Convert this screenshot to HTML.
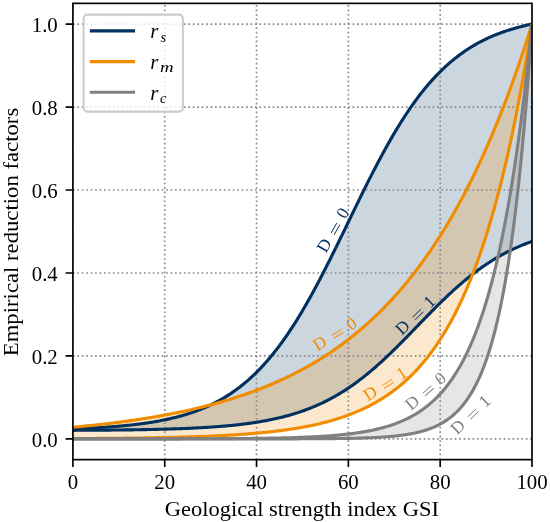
<!DOCTYPE html>
<html><head><meta charset="utf-8"><style>html,body{margin:0;padding:0;background:#fff;}svg{display:block;}</style></head>
<body><svg width="550" height="522" viewBox="0 0 550 522">
<rect width="550" height="522" fill="#fff"/>
<defs><clipPath id="ax"><rect x="72.9" y="3.360000000000003" width="459.1" height="456.28"/></clipPath></defs>
<g clip-path="url(#ax)">
<path d="M72.90,428.78 L74.05,428.74 L75.20,428.70 L76.34,428.66 L77.49,428.61 L78.64,428.57 L79.79,428.52 L80.93,428.48 L82.08,428.43 L83.23,428.38 L84.38,428.33 L85.53,428.28 L86.67,428.23 L87.82,428.17 L88.97,428.12 L90.12,428.06 L91.26,428.01 L92.41,427.95 L93.56,427.89 L94.71,427.83 L95.86,427.76 L97.00,427.70 L98.15,427.64 L99.30,427.57 L100.45,427.50 L101.59,427.43 L102.74,427.36 L103.89,427.29 L105.04,427.21 L106.18,427.14 L107.33,427.06 L108.48,426.98 L109.63,426.90 L110.78,426.81 L111.92,426.73 L113.07,426.64 L114.22,426.55 L115.37,426.46 L116.51,426.37 L117.66,426.27 L118.81,426.17 L119.96,426.08 L121.11,425.97 L122.25,425.87 L123.40,425.76 L124.55,425.65 L125.70,425.54 L126.84,425.43 L127.99,425.31 L129.14,425.19 L130.29,425.07 L131.44,424.95 L132.58,424.82 L133.73,424.69 L134.88,424.56 L136.03,424.42 L137.17,424.28 L138.32,424.14 L139.47,423.99 L140.62,423.85 L141.76,423.69 L142.91,423.54 L144.06,423.38 L145.21,423.22 L146.36,423.05 L147.50,422.88 L148.65,422.71 L149.80,422.53 L150.95,422.35 L152.09,422.17 L153.24,421.98 L154.39,421.79 L155.54,421.59 L156.69,421.39 L157.83,421.18 L158.98,420.97 L160.13,420.76 L161.28,420.54 L162.42,420.31 L163.57,420.08 L164.72,419.85 L165.87,419.61 L167.02,419.36 L168.16,419.11 L169.31,418.86 L170.46,418.60 L171.61,418.33 L172.75,418.06 L173.90,417.78 L175.05,417.49 L176.20,417.20 L177.35,416.91 L178.49,416.60 L179.64,416.29 L180.79,415.98 L181.94,415.65 L183.08,415.32 L184.23,414.99 L185.38,414.64 L186.53,414.29 L187.68,413.93 L188.82,413.56 L189.97,413.19 L191.12,412.81 L192.27,412.42 L193.41,412.02 L194.56,411.61 L195.71,411.20 L196.86,410.77 L198.00,410.34 L199.15,409.90 L200.30,409.45 L201.45,408.99 L202.60,408.52 L203.74,408.04 L204.89,407.55 L206.04,407.05 L207.19,406.54 L208.33,406.02 L209.48,405.49 L210.63,404.95 L211.78,404.40 L212.93,403.84 L214.07,403.26 L215.22,402.68 L216.37,402.08 L217.52,401.47 L218.66,400.85 L219.81,400.22 L220.96,399.57 L222.11,398.91 L223.26,398.24 L224.40,397.56 L225.55,396.86 L226.70,396.15 L227.85,395.42 L228.99,394.69 L230.14,393.93 L231.29,393.17 L232.44,392.39 L233.59,391.59 L234.73,390.78 L235.88,389.95 L237.03,389.11 L238.18,388.26 L239.32,387.39 L240.47,386.50 L241.62,385.60 L242.77,384.68 L243.91,383.74 L245.06,382.79 L246.21,381.82 L247.36,380.83 L248.51,379.83 L249.65,378.80 L250.80,377.76 L251.95,376.71 L253.10,375.63 L254.24,374.54 L255.39,373.43 L256.54,372.30 L257.69,371.15 L258.84,369.98 L259.98,368.80 L261.13,367.59 L262.28,366.37 L263.43,365.12 L264.57,363.86 L265.72,362.58 L266.87,361.27 L268.02,359.95 L269.17,358.61 L270.31,357.24 L271.46,355.86 L272.61,354.45 L273.76,353.03 L274.90,351.59 L276.05,350.12 L277.20,348.63 L278.35,347.13 L279.50,345.60 L280.64,344.05 L281.79,342.48 L282.94,340.89 L284.09,339.28 L285.23,337.65 L286.38,336.00 L287.53,334.33 L288.68,332.64 L289.82,330.92 L290.97,329.19 L292.12,327.44 L293.27,325.66 L294.42,323.87 L295.56,322.05 L296.71,320.22 L297.86,318.36 L299.01,316.49 L300.15,314.60 L301.30,312.68 L302.45,310.75 L303.60,308.80 L304.75,306.83 L305.89,304.85 L307.04,302.84 L308.19,300.82 L309.34,298.78 L310.48,296.72 L311.63,294.65 L312.78,292.56 L313.93,290.45 L315.08,288.33 L316.22,286.19 L317.37,284.04 L318.52,281.87 L319.67,279.69 L320.81,277.49 L321.96,275.28 L323.11,273.06 L324.26,270.83 L325.40,268.58 L326.55,266.32 L327.70,264.05 L328.85,261.77 L330.00,259.49 L331.14,257.19 L332.29,254.88 L333.44,252.56 L334.59,250.24 L335.73,247.91 L336.88,245.57 L338.03,243.23 L339.18,240.88 L340.33,238.53 L341.47,236.17 L342.62,233.81 L343.77,231.45 L344.92,229.08 L346.06,226.71 L347.21,224.34 L348.36,221.97 L349.51,219.60 L350.66,217.23 L351.80,214.87 L352.95,212.50 L354.10,210.14 L355.25,207.77 L356.39,205.42 L357.54,203.06 L358.69,200.72 L359.84,198.37 L360.99,196.04 L362.13,193.71 L363.28,191.38 L364.43,189.07 L365.58,186.76 L366.72,184.46 L367.87,182.17 L369.02,179.89 L370.17,177.63 L371.32,175.37 L372.46,173.12 L373.61,170.89 L374.76,168.67 L375.91,166.46 L377.05,164.26 L378.20,162.08 L379.35,159.91 L380.50,157.76 L381.64,155.62 L382.79,153.50 L383.94,151.39 L385.09,149.30 L386.24,147.23 L387.38,145.17 L388.53,143.13 L389.68,141.11 L390.83,139.10 L391.97,137.11 L393.12,135.15 L394.27,133.19 L395.42,131.26 L396.57,129.35 L397.71,127.46 L398.86,125.58 L400.01,123.73 L401.16,121.90 L402.30,120.08 L403.45,118.29 L404.60,116.51 L405.75,114.76 L406.90,113.02 L408.04,111.31 L409.19,109.62 L410.34,107.95 L411.49,106.29 L412.63,104.66 L413.78,103.05 L414.93,101.46 L416.08,99.89 L417.23,98.35 L418.37,96.82 L419.52,95.31 L420.67,93.83 L421.82,92.36 L422.96,90.92 L424.11,89.49 L425.26,88.09 L426.41,86.71 L427.55,85.34 L428.70,84.00 L429.85,82.68 L431.00,81.37 L432.15,80.09 L433.29,78.83 L434.44,77.58 L435.59,76.36 L436.74,75.15 L437.88,73.96 L439.03,72.80 L440.18,71.65 L441.33,70.52 L442.48,69.41 L443.62,68.31 L444.77,67.24 L445.92,66.18 L447.07,65.14 L448.21,64.12 L449.36,63.12 L450.51,62.13 L451.66,61.16 L452.81,60.21 L453.95,59.27 L455.10,58.35 L456.25,57.45 L457.40,56.56 L458.54,55.69 L459.69,54.83 L460.84,53.99 L461.99,53.17 L463.13,52.36 L464.28,51.56 L465.43,50.78 L466.58,50.01 L467.73,49.26 L468.87,48.52 L470.02,47.80 L471.17,47.09 L472.32,46.39 L473.46,45.71 L474.61,45.04 L475.76,44.38 L476.91,43.73 L478.06,43.10 L479.20,42.48 L480.35,41.87 L481.50,41.27 L482.65,40.69 L483.79,40.11 L484.94,39.55 L486.09,39.00 L487.24,38.46 L488.39,37.93 L489.53,37.41 L490.68,36.90 L491.83,36.40 L492.98,35.91 L494.12,35.43 L495.27,34.96 L496.42,34.50 L497.57,34.05 L498.72,33.61 L499.86,33.18 L501.01,32.75 L502.16,32.34 L503.31,31.93 L504.45,31.53 L505.60,31.14 L506.75,30.76 L507.90,30.38 L509.04,30.02 L510.19,29.66 L511.34,29.31 L512.49,28.96 L513.64,28.63 L514.78,28.29 L515.93,27.97 L517.08,27.66 L518.23,27.35 L519.37,27.04 L520.52,26.75 L521.67,26.45 L522.82,26.17 L523.97,25.89 L525.11,25.62 L526.26,25.35 L527.41,25.09 L528.56,24.83 L529.70,24.58 L530.85,24.34 L532.00,24.10 L532.00,241.46 L530.85,241.86 L529.70,242.27 L528.56,242.69 L527.41,243.12 L526.26,243.56 L525.11,244.00 L523.97,244.45 L522.82,244.91 L521.67,245.38 L520.52,245.86 L519.37,246.34 L518.23,246.84 L517.08,247.34 L515.93,247.85 L514.78,248.37 L513.64,248.90 L512.49,249.44 L511.34,249.98 L510.19,250.54 L509.04,251.10 L507.90,251.68 L506.75,252.26 L505.60,252.85 L504.45,253.46 L503.31,254.07 L502.16,254.69 L501.01,255.32 L499.86,255.96 L498.72,256.62 L497.57,257.28 L496.42,257.95 L495.27,258.63 L494.12,259.32 L492.98,260.02 L491.83,260.74 L490.68,261.46 L489.53,262.19 L488.39,262.93 L487.24,263.69 L486.09,264.45 L484.94,265.23 L483.79,266.01 L482.65,266.80 L481.50,267.61 L480.35,268.43 L479.20,269.25 L478.06,270.09 L476.91,270.93 L475.76,271.79 L474.61,272.66 L473.46,273.53 L472.32,274.42 L471.17,275.32 L470.02,276.23 L468.87,277.14 L467.73,278.07 L466.58,279.01 L465.43,279.95 L464.28,280.91 L463.13,281.88 L461.99,282.85 L460.84,283.84 L459.69,284.83 L458.54,285.83 L457.40,286.84 L456.25,287.86 L455.10,288.89 L453.95,289.93 L452.81,290.97 L451.66,292.03 L450.51,293.09 L449.36,294.16 L448.21,295.23 L447.07,296.32 L445.92,297.41 L444.77,298.51 L443.62,299.61 L442.48,300.72 L441.33,301.84 L440.18,302.96 L439.03,304.09 L437.88,305.23 L436.74,306.36 L435.59,307.51 L434.44,308.66 L433.29,309.81 L432.15,310.97 L431.00,312.13 L429.85,313.30 L428.70,314.46 L427.55,315.64 L426.41,316.81 L425.26,317.99 L424.11,319.17 L422.96,320.35 L421.82,321.53 L420.67,322.71 L419.52,323.90 L418.37,325.08 L417.23,326.27 L416.08,327.45 L414.93,328.64 L413.78,329.82 L412.63,331.00 L411.49,332.18 L410.34,333.36 L409.19,334.54 L408.04,335.72 L406.90,336.89 L405.75,338.07 L404.60,339.23 L403.45,340.40 L402.30,341.56 L401.16,342.72 L400.01,343.87 L398.86,345.02 L397.71,346.17 L396.57,347.30 L395.42,348.44 L394.27,349.57 L393.12,350.69 L391.97,351.81 L390.83,352.92 L389.68,354.02 L388.53,355.12 L387.38,356.21 L386.24,357.30 L385.09,358.37 L383.94,359.44 L382.79,360.50 L381.64,361.56 L380.50,362.60 L379.35,363.64 L378.20,364.67 L377.05,365.69 L375.91,366.70 L374.76,367.70 L373.61,368.70 L372.46,369.68 L371.32,370.65 L370.17,371.62 L369.02,372.58 L367.87,373.52 L366.72,374.46 L365.58,375.39 L364.43,376.30 L363.28,377.21 L362.13,378.11 L360.99,379.00 L359.84,379.87 L358.69,380.74 L357.54,381.60 L356.39,382.44 L355.25,383.28 L354.10,384.11 L352.95,384.92 L351.80,385.73 L350.66,386.52 L349.51,387.30 L348.36,388.08 L347.21,388.84 L346.06,389.60 L344.92,390.34 L343.77,391.07 L342.62,391.79 L341.47,392.51 L340.33,393.21 L339.18,393.90 L338.03,394.58 L336.88,395.25 L335.73,395.91 L334.59,396.57 L333.44,397.21 L332.29,397.84 L331.14,398.46 L330.00,399.07 L328.85,399.68 L327.70,400.27 L326.55,400.85 L325.40,401.43 L324.26,401.99 L323.11,402.55 L321.96,403.09 L320.81,403.63 L319.67,404.16 L318.52,404.68 L317.37,405.19 L316.22,405.69 L315.08,406.19 L313.93,406.67 L312.78,407.15 L311.63,407.62 L310.48,408.08 L309.34,408.53 L308.19,408.97 L307.04,409.41 L305.89,409.84 L304.75,410.26 L303.60,410.67 L302.45,411.07 L301.30,411.47 L300.15,411.86 L299.01,412.24 L297.86,412.62 L296.71,412.99 L295.56,413.35 L294.42,413.71 L293.27,414.06 L292.12,414.40 L290.97,414.73 L289.82,415.06 L288.68,415.39 L287.53,415.70 L286.38,416.01 L285.23,416.32 L284.09,416.62 L282.94,416.91 L281.79,417.20 L280.64,417.48 L279.50,417.75 L278.35,418.02 L277.20,418.29 L276.05,418.55 L274.90,418.80 L273.76,419.05 L272.61,419.30 L271.46,419.54 L270.31,419.77 L269.17,420.00 L268.02,420.23 L266.87,420.45 L265.72,420.66 L264.57,420.88 L263.43,421.08 L262.28,421.29 L261.13,421.49 L259.98,421.68 L258.84,421.87 L257.69,422.06 L256.54,422.24 L255.39,422.42 L254.24,422.60 L253.10,422.77 L251.95,422.94 L250.80,423.10 L249.65,423.27 L248.51,423.42 L247.36,423.58 L246.21,423.73 L245.06,423.88 L243.91,424.02 L242.77,424.17 L241.62,424.31 L240.47,424.44 L239.32,424.58 L238.18,424.71 L237.03,424.83 L235.88,424.96 L234.73,425.08 L233.59,425.20 L232.44,425.32 L231.29,425.43 L230.14,425.55 L228.99,425.66 L227.85,425.76 L226.70,425.87 L225.55,425.97 L224.40,426.07 L223.26,426.17 L222.11,426.27 L220.96,426.36 L219.81,426.46 L218.66,426.55 L217.52,426.63 L216.37,426.72 L215.22,426.81 L214.07,426.89 L212.93,426.97 L211.78,427.05 L210.63,427.13 L209.48,427.20 L208.33,427.28 L207.19,427.35 L206.04,427.42 L204.89,427.49 L203.74,427.56 L202.60,427.62 L201.45,427.69 L200.30,427.75 L199.15,427.81 L198.00,427.87 L196.86,427.93 L195.71,427.99 L194.56,428.05 L193.41,428.11 L192.27,428.16 L191.12,428.21 L189.97,428.26 L188.82,428.32 L187.68,428.37 L186.53,428.41 L185.38,428.46 L184.23,428.51 L183.08,428.55 L181.94,428.60 L180.79,428.64 L179.64,428.69 L178.49,428.73 L177.35,428.77 L176.20,428.81 L175.05,428.85 L173.90,428.88 L172.75,428.92 L171.61,428.96 L170.46,428.99 L169.31,429.03 L168.16,429.06 L167.02,429.10 L165.87,429.13 L164.72,429.16 L163.57,429.19 L162.42,429.22 L161.28,429.25 L160.13,429.28 L158.98,429.31 L157.83,429.34 L156.69,429.36 L155.54,429.39 L154.39,429.42 L153.24,429.44 L152.09,429.47 L150.95,429.49 L149.80,429.52 L148.65,429.54 L147.50,429.56 L146.36,429.58 L145.21,429.61 L144.06,429.63 L142.91,429.65 L141.76,429.67 L140.62,429.69 L139.47,429.71 L138.32,429.73 L137.17,429.75 L136.03,429.76 L134.88,429.78 L133.73,429.80 L132.58,429.82 L131.44,429.83 L130.29,429.85 L129.14,429.86 L127.99,429.88 L126.84,429.89 L125.70,429.91 L124.55,429.92 L123.40,429.94 L122.25,429.95 L121.11,429.97 L119.96,429.98 L118.81,429.99 L117.66,430.00 L116.51,430.02 L115.37,430.03 L114.22,430.04 L113.07,430.05 L111.92,430.06 L110.78,430.07 L109.63,430.09 L108.48,430.10 L107.33,430.11 L106.18,430.12 L105.04,430.13 L103.89,430.14 L102.74,430.15 L101.59,430.15 L100.45,430.16 L99.30,430.17 L98.15,430.18 L97.00,430.19 L95.86,430.20 L94.71,430.21 L93.56,430.21 L92.41,430.22 L91.26,430.23 L90.12,430.24 L88.97,430.24 L87.82,430.25 L86.67,430.26 L85.53,430.26 L84.38,430.27 L83.23,430.28 L82.08,430.28 L80.93,430.29 L79.79,430.30 L78.64,430.30 L77.49,430.31 L76.34,430.31 L75.20,430.32 L74.05,430.32 L72.90,430.33 Z" fill="#00305e" fill-opacity="0.2" stroke="none"/>
<path d="M72.90,427.24 L74.05,427.13 L75.20,427.03 L76.34,426.92 L77.49,426.81 L78.64,426.71 L79.79,426.60 L80.93,426.49 L82.08,426.37 L83.23,426.26 L84.38,426.15 L85.53,426.03 L86.67,425.92 L87.82,425.80 L88.97,425.68 L90.12,425.57 L91.26,425.45 L92.41,425.33 L93.56,425.20 L94.71,425.08 L95.86,424.96 L97.00,424.83 L98.15,424.71 L99.30,424.58 L100.45,424.45 L101.59,424.32 L102.74,424.19 L103.89,424.06 L105.04,423.93 L106.18,423.79 L107.33,423.66 L108.48,423.52 L109.63,423.38 L110.78,423.24 L111.92,423.10 L113.07,422.96 L114.22,422.82 L115.37,422.67 L116.51,422.53 L117.66,422.38 L118.81,422.23 L119.96,422.08 L121.11,421.93 L122.25,421.78 L123.40,421.63 L124.55,421.47 L125.70,421.31 L126.84,421.16 L127.99,421.00 L129.14,420.84 L130.29,420.67 L131.44,420.51 L132.58,420.35 L133.73,420.18 L134.88,420.01 L136.03,419.84 L137.17,419.67 L138.32,419.50 L139.47,419.33 L140.62,419.15 L141.76,418.97 L142.91,418.79 L144.06,418.61 L145.21,418.43 L146.36,418.25 L147.50,418.06 L148.65,417.88 L149.80,417.69 L150.95,417.50 L152.09,417.31 L153.24,417.11 L154.39,416.92 L155.54,416.72 L156.69,416.52 L157.83,416.32 L158.98,416.12 L160.13,415.91 L161.28,415.71 L162.42,415.50 L163.57,415.29 L164.72,415.08 L165.87,414.86 L167.02,414.65 L168.16,414.43 L169.31,414.21 L170.46,413.99 L171.61,413.77 L172.75,413.54 L173.90,413.31 L175.05,413.08 L176.20,412.85 L177.35,412.62 L178.49,412.38 L179.64,412.14 L180.79,411.90 L181.94,411.66 L183.08,411.42 L184.23,411.17 L185.38,410.92 L186.53,410.67 L187.68,410.42 L188.82,410.16 L189.97,409.91 L191.12,409.65 L192.27,409.38 L193.41,409.12 L194.56,408.85 L195.71,408.58 L196.86,408.31 L198.00,408.04 L199.15,407.76 L200.30,407.48 L201.45,407.20 L202.60,406.91 L203.74,406.63 L204.89,406.34 L206.04,406.05 L207.19,405.75 L208.33,405.45 L209.48,405.15 L210.63,404.85 L211.78,404.55 L212.93,404.24 L214.07,403.93 L215.22,403.61 L216.37,403.30 L217.52,402.98 L218.66,402.66 L219.81,402.33 L220.96,402.00 L222.11,401.67 L223.26,401.34 L224.40,401.00 L225.55,400.66 L226.70,400.32 L227.85,399.97 L228.99,399.62 L230.14,399.27 L231.29,398.91 L232.44,398.56 L233.59,398.19 L234.73,397.83 L235.88,397.46 L237.03,397.09 L238.18,396.71 L239.32,396.34 L240.47,395.95 L241.62,395.57 L242.77,395.18 L243.91,394.79 L245.06,394.39 L246.21,393.99 L247.36,393.59 L248.51,393.18 L249.65,392.77 L250.80,392.36 L251.95,391.94 L253.10,391.52 L254.24,391.10 L255.39,390.67 L256.54,390.24 L257.69,389.80 L258.84,389.36 L259.98,388.91 L261.13,388.47 L262.28,388.01 L263.43,387.56 L264.57,387.10 L265.72,386.63 L266.87,386.16 L268.02,385.69 L269.17,385.21 L270.31,384.73 L271.46,384.25 L272.61,383.76 L273.76,383.26 L274.90,382.76 L276.05,382.26 L277.20,381.75 L278.35,381.24 L279.50,380.72 L280.64,380.20 L281.79,379.67 L282.94,379.14 L284.09,378.61 L285.23,378.07 L286.38,377.52 L287.53,376.97 L288.68,376.41 L289.82,375.85 L290.97,375.29 L292.12,374.72 L293.27,374.14 L294.42,373.56 L295.56,372.98 L296.71,372.38 L297.86,371.79 L299.01,371.19 L300.15,370.58 L301.30,369.97 L302.45,369.35 L303.60,368.72 L304.75,368.09 L305.89,367.46 L307.04,366.82 L308.19,366.17 L309.34,365.52 L310.48,364.86 L311.63,364.20 L312.78,363.53 L313.93,362.85 L315.08,362.17 L316.22,361.48 L317.37,360.79 L318.52,360.09 L319.67,359.38 L320.81,358.67 L321.96,357.95 L323.11,357.22 L324.26,356.49 L325.40,355.75 L326.55,355.00 L327.70,354.25 L328.85,353.49 L330.00,352.73 L331.14,351.95 L332.29,351.17 L333.44,350.39 L334.59,349.59 L335.73,348.79 L336.88,347.98 L338.03,347.17 L339.18,346.35 L340.33,345.52 L341.47,344.68 L342.62,343.83 L343.77,342.98 L344.92,342.12 L346.06,341.25 L347.21,340.38 L348.36,339.49 L349.51,338.60 L350.66,337.70 L351.80,336.79 L352.95,335.88 L354.10,334.95 L355.25,334.02 L356.39,333.08 L357.54,332.13 L358.69,331.17 L359.84,330.21 L360.99,329.23 L362.13,328.25 L363.28,327.26 L364.43,326.26 L365.58,325.25 L366.72,324.23 L367.87,323.20 L369.02,322.16 L370.17,321.11 L371.32,320.06 L372.46,318.99 L373.61,317.92 L374.76,316.83 L375.91,315.74 L377.05,314.63 L378.20,313.52 L379.35,312.39 L380.50,311.26 L381.64,310.11 L382.79,308.96 L383.94,307.79 L385.09,306.62 L386.24,305.43 L387.38,304.23 L388.53,303.03 L389.68,301.81 L390.83,300.58 L391.97,299.34 L393.12,298.09 L394.27,296.82 L395.42,295.55 L396.57,294.26 L397.71,292.97 L398.86,291.66 L400.01,290.34 L401.16,289.00 L402.30,287.66 L403.45,286.30 L404.60,284.94 L405.75,283.55 L406.90,282.16 L408.04,280.76 L409.19,279.34 L410.34,277.91 L411.49,276.46 L412.63,275.01 L413.78,273.54 L414.93,272.05 L416.08,270.56 L417.23,269.05 L418.37,267.52 L419.52,265.99 L420.67,264.43 L421.82,262.87 L422.96,261.29 L424.11,259.70 L425.26,258.09 L426.41,256.47 L427.55,254.83 L428.70,253.18 L429.85,251.52 L431.00,249.84 L432.15,248.14 L433.29,246.43 L434.44,244.70 L435.59,242.96 L436.74,241.21 L437.88,239.43 L439.03,237.64 L440.18,235.84 L441.33,234.02 L442.48,232.18 L443.62,230.33 L444.77,228.45 L445.92,226.57 L447.07,224.66 L448.21,222.74 L449.36,220.80 L450.51,218.85 L451.66,216.87 L452.81,214.88 L453.95,212.87 L455.10,210.85 L456.25,208.80 L457.40,206.74 L458.54,204.65 L459.69,202.55 L460.84,200.43 L461.99,198.30 L463.13,196.14 L464.28,193.96 L465.43,191.76 L466.58,189.55 L467.73,187.31 L468.87,185.05 L470.02,182.78 L471.17,180.48 L472.32,178.16 L473.46,175.82 L474.61,173.47 L475.76,171.08 L476.91,168.68 L478.06,166.26 L479.20,163.81 L480.35,161.35 L481.50,158.86 L482.65,156.35 L483.79,153.81 L484.94,151.26 L486.09,148.68 L487.24,146.07 L488.39,143.45 L489.53,140.80 L490.68,138.12 L491.83,135.43 L492.98,132.70 L494.12,129.96 L495.27,127.19 L496.42,124.39 L497.57,121.57 L498.72,118.72 L499.86,115.85 L501.01,112.96 L502.16,110.03 L503.31,107.08 L504.45,104.11 L505.60,101.10 L506.75,98.08 L507.90,95.02 L509.04,91.93 L510.19,88.82 L511.34,85.68 L512.49,82.52 L513.64,79.32 L514.78,76.09 L515.93,72.84 L517.08,69.56 L518.23,66.24 L519.37,62.90 L520.52,59.53 L521.67,56.13 L522.82,52.70 L523.97,49.23 L525.11,45.74 L526.26,42.21 L527.41,38.65 L528.56,35.06 L529.70,31.44 L530.85,27.79 L532.00,24.10 L532.00,24.10 L530.85,31.44 L529.70,38.65 L528.56,45.74 L527.41,52.70 L526.26,59.53 L525.11,66.24 L523.97,72.84 L522.82,79.32 L521.67,85.68 L520.52,91.93 L519.37,98.08 L518.23,104.11 L517.08,110.03 L515.93,115.85 L514.78,121.57 L513.64,127.19 L512.49,132.70 L511.34,138.12 L510.19,143.45 L509.04,148.68 L507.90,153.81 L506.75,158.86 L505.60,163.81 L504.45,168.68 L503.31,173.47 L502.16,178.16 L501.01,182.78 L499.86,187.31 L498.72,191.76 L497.57,196.14 L496.42,200.43 L495.27,204.65 L494.12,208.80 L492.98,212.87 L491.83,216.87 L490.68,220.80 L489.53,224.66 L488.39,228.45 L487.24,232.18 L486.09,235.84 L484.94,239.43 L483.79,242.96 L482.65,246.43 L481.50,249.84 L480.35,253.18 L479.20,256.47 L478.06,259.70 L476.91,262.87 L475.76,265.99 L474.61,269.05 L473.46,272.05 L472.32,275.01 L471.17,277.91 L470.02,280.76 L468.87,283.55 L467.73,286.30 L466.58,289.00 L465.43,291.66 L464.28,294.26 L463.13,296.82 L461.99,299.34 L460.84,301.81 L459.69,304.23 L458.54,306.62 L457.40,308.96 L456.25,311.26 L455.10,313.52 L453.95,315.74 L452.81,317.92 L451.66,320.06 L450.51,322.16 L449.36,324.23 L448.21,326.26 L447.07,328.25 L445.92,330.21 L444.77,332.13 L443.62,334.02 L442.48,335.88 L441.33,337.70 L440.18,339.49 L439.03,341.25 L437.88,342.98 L436.74,344.68 L435.59,346.35 L434.44,347.98 L433.29,349.59 L432.15,351.17 L431.00,352.73 L429.85,354.25 L428.70,355.75 L427.55,357.22 L426.41,358.67 L425.26,360.09 L424.11,361.48 L422.96,362.85 L421.82,364.20 L420.67,365.52 L419.52,366.82 L418.37,368.09 L417.23,369.35 L416.08,370.58 L414.93,371.79 L413.78,372.98 L412.63,374.14 L411.49,375.29 L410.34,376.41 L409.19,377.52 L408.04,378.61 L406.90,379.67 L405.75,380.72 L404.60,381.75 L403.45,382.76 L402.30,383.76 L401.16,384.73 L400.01,385.69 L398.86,386.63 L397.71,387.56 L396.57,388.47 L395.42,389.36 L394.27,390.24 L393.12,391.10 L391.97,391.94 L390.83,392.77 L389.68,393.59 L388.53,394.39 L387.38,395.18 L386.24,395.95 L385.09,396.71 L383.94,397.46 L382.79,398.19 L381.64,398.91 L380.50,399.62 L379.35,400.32 L378.20,401.00 L377.05,401.67 L375.91,402.33 L374.76,402.98 L373.61,403.61 L372.46,404.24 L371.32,404.85 L370.17,405.45 L369.02,406.05 L367.87,406.63 L366.72,407.20 L365.58,407.76 L364.43,408.31 L363.28,408.85 L362.13,409.38 L360.99,409.91 L359.84,410.42 L358.69,410.92 L357.54,411.42 L356.39,411.90 L355.25,412.38 L354.10,412.85 L352.95,413.31 L351.80,413.77 L350.66,414.21 L349.51,414.65 L348.36,415.08 L347.21,415.50 L346.06,415.91 L344.92,416.32 L343.77,416.72 L342.62,417.11 L341.47,417.50 L340.33,417.88 L339.18,418.25 L338.03,418.61 L336.88,418.97 L335.73,419.33 L334.59,419.67 L333.44,420.01 L332.29,420.35 L331.14,420.67 L330.00,421.00 L328.85,421.31 L327.70,421.63 L326.55,421.93 L325.40,422.23 L324.26,422.53 L323.11,422.82 L321.96,423.10 L320.81,423.38 L319.67,423.66 L318.52,423.93 L317.37,424.19 L316.22,424.45 L315.08,424.71 L313.93,424.96 L312.78,425.20 L311.63,425.45 L310.48,425.68 L309.34,425.92 L308.19,426.15 L307.04,426.37 L305.89,426.60 L304.75,426.81 L303.60,427.03 L302.45,427.24 L301.30,427.44 L300.15,427.65 L299.01,427.85 L297.86,428.04 L296.71,428.23 L295.56,428.42 L294.42,428.61 L293.27,428.79 L292.12,428.97 L290.97,429.14 L289.82,429.32 L288.68,429.49 L287.53,429.65 L286.38,429.82 L285.23,429.98 L284.09,430.14 L282.94,430.29 L281.79,430.44 L280.64,430.59 L279.50,430.74 L278.35,430.88 L277.20,431.03 L276.05,431.17 L274.90,431.30 L273.76,431.44 L272.61,431.57 L271.46,431.70 L270.31,431.83 L269.17,431.95 L268.02,432.07 L266.87,432.20 L265.72,432.31 L264.57,432.43 L263.43,432.55 L262.28,432.66 L261.13,432.77 L259.98,432.88 L258.84,432.98 L257.69,433.09 L256.54,433.19 L255.39,433.29 L254.24,433.39 L253.10,433.49 L251.95,433.58 L250.80,433.68 L249.65,433.77 L248.51,433.86 L247.36,433.95 L246.21,434.04 L245.06,434.12 L243.91,434.21 L242.77,434.29 L241.62,434.37 L240.47,434.45 L239.32,434.53 L238.18,434.61 L237.03,434.69 L235.88,434.76 L234.73,434.83 L233.59,434.91 L232.44,434.98 L231.29,435.05 L230.14,435.11 L228.99,435.18 L227.85,435.25 L226.70,435.31 L225.55,435.37 L224.40,435.44 L223.26,435.50 L222.11,435.56 L220.96,435.62 L219.81,435.68 L218.66,435.73 L217.52,435.79 L216.37,435.84 L215.22,435.90 L214.07,435.95 L212.93,436.00 L211.78,436.05 L210.63,436.11 L209.48,436.15 L208.33,436.20 L207.19,436.25 L206.04,436.30 L204.89,436.34 L203.74,436.39 L202.60,436.43 L201.45,436.48 L200.30,436.52 L199.15,436.56 L198.00,436.60 L196.86,436.64 L195.71,436.68 L194.56,436.72 L193.41,436.76 L192.27,436.80 L191.12,436.84 L189.97,436.87 L188.82,436.91 L187.68,436.94 L186.53,436.98 L185.38,437.01 L184.23,437.05 L183.08,437.08 L181.94,437.11 L180.79,437.14 L179.64,437.17 L178.49,437.20 L177.35,437.23 L176.20,437.26 L175.05,437.29 L173.90,437.32 L172.75,437.35 L171.61,437.38 L170.46,437.40 L169.31,437.43 L168.16,437.46 L167.02,437.48 L165.87,437.51 L164.72,437.53 L163.57,437.56 L162.42,437.58 L161.28,437.60 L160.13,437.63 L158.98,437.65 L157.83,437.67 L156.69,437.69 L155.54,437.71 L154.39,437.73 L153.24,437.76 L152.09,437.78 L150.95,437.80 L149.80,437.82 L148.65,437.83 L147.50,437.85 L146.36,437.87 L145.21,437.89 L144.06,437.91 L142.91,437.93 L141.76,437.94 L140.62,437.96 L139.47,437.98 L138.32,437.99 L137.17,438.01 L136.03,438.02 L134.88,438.04 L133.73,438.06 L132.58,438.07 L131.44,438.08 L130.29,438.10 L129.14,438.11 L127.99,438.13 L126.84,438.14 L125.70,438.15 L124.55,438.17 L123.40,438.18 L122.25,438.19 L121.11,438.21 L119.96,438.22 L118.81,438.23 L117.66,438.24 L116.51,438.25 L115.37,438.27 L114.22,438.28 L113.07,438.29 L111.92,438.30 L110.78,438.31 L109.63,438.32 L108.48,438.33 L107.33,438.34 L106.18,438.35 L105.04,438.36 L103.89,438.37 L102.74,438.38 L101.59,438.39 L100.45,438.40 L99.30,438.41 L98.15,438.41 L97.00,438.42 L95.86,438.43 L94.71,438.44 L93.56,438.45 L92.41,438.46 L91.26,438.46 L90.12,438.47 L88.97,438.48 L87.82,438.49 L86.67,438.49 L85.53,438.50 L84.38,438.51 L83.23,438.51 L82.08,438.52 L80.93,438.53 L79.79,438.54 L78.64,438.54 L77.49,438.55 L76.34,438.55 L75.20,438.56 L74.05,438.57 L72.90,438.57 Z" fill="#f08c00" fill-opacity="0.2" stroke="none"/>
<path d="M72.90,438.89 L74.05,438.89 L75.20,438.89 L76.34,438.89 L77.49,438.89 L78.64,438.89 L79.79,438.89 L80.93,438.89 L82.08,438.89 L83.23,438.89 L84.38,438.89 L85.53,438.89 L86.67,438.89 L87.82,438.89 L88.97,438.89 L90.12,438.89 L91.26,438.89 L92.41,438.89 L93.56,438.89 L94.71,438.89 L95.86,438.89 L97.00,438.89 L98.15,438.89 L99.30,438.89 L100.45,438.89 L101.59,438.89 L102.74,438.89 L103.89,438.89 L105.04,438.89 L106.18,438.89 L107.33,438.89 L108.48,438.89 L109.63,438.88 L110.78,438.88 L111.92,438.88 L113.07,438.88 L114.22,438.88 L115.37,438.88 L116.51,438.88 L117.66,438.88 L118.81,438.88 L119.96,438.88 L121.11,438.88 L122.25,438.88 L123.40,438.88 L124.55,438.88 L125.70,438.88 L126.84,438.88 L127.99,438.88 L129.14,438.88 L130.29,438.88 L131.44,438.87 L132.58,438.87 L133.73,438.87 L134.88,438.87 L136.03,438.87 L137.17,438.87 L138.32,438.87 L139.47,438.87 L140.62,438.87 L141.76,438.87 L142.91,438.87 L144.06,438.87 L145.21,438.86 L146.36,438.86 L147.50,438.86 L148.65,438.86 L149.80,438.86 L150.95,438.86 L152.09,438.86 L153.24,438.86 L154.39,438.86 L155.54,438.85 L156.69,438.85 L157.83,438.85 L158.98,438.85 L160.13,438.85 L161.28,438.85 L162.42,438.85 L163.57,438.84 L164.72,438.84 L165.87,438.84 L167.02,438.84 L168.16,438.84 L169.31,438.84 L170.46,438.83 L171.61,438.83 L172.75,438.83 L173.90,438.83 L175.05,438.83 L176.20,438.82 L177.35,438.82 L178.49,438.82 L179.64,438.82 L180.79,438.82 L181.94,438.81 L183.08,438.81 L184.23,438.81 L185.38,438.81 L186.53,438.80 L187.68,438.80 L188.82,438.80 L189.97,438.79 L191.12,438.79 L192.27,438.79 L193.41,438.79 L194.56,438.78 L195.71,438.78 L196.86,438.78 L198.00,438.77 L199.15,438.77 L200.30,438.76 L201.45,438.76 L202.60,438.76 L203.74,438.75 L204.89,438.75 L206.04,438.74 L207.19,438.74 L208.33,438.74 L209.48,438.73 L210.63,438.73 L211.78,438.72 L212.93,438.72 L214.07,438.71 L215.22,438.71 L216.37,438.70 L217.52,438.69 L218.66,438.69 L219.81,438.68 L220.96,438.68 L222.11,438.67 L223.26,438.66 L224.40,438.66 L225.55,438.65 L226.70,438.64 L227.85,438.64 L228.99,438.63 L230.14,438.62 L231.29,438.61 L232.44,438.61 L233.59,438.60 L234.73,438.59 L235.88,438.58 L237.03,438.57 L238.18,438.56 L239.32,438.55 L240.47,438.54 L241.62,438.53 L242.77,438.52 L243.91,438.51 L245.06,438.50 L246.21,438.49 L247.36,438.48 L248.51,438.47 L249.65,438.45 L250.80,438.44 L251.95,438.43 L253.10,438.41 L254.24,438.40 L255.39,438.39 L256.54,438.37 L257.69,438.36 L258.84,438.34 L259.98,438.33 L261.13,438.31 L262.28,438.29 L263.43,438.28 L264.57,438.26 L265.72,438.24 L266.87,438.22 L268.02,438.20 L269.17,438.18 L270.31,438.16 L271.46,438.14 L272.61,438.12 L273.76,438.10 L274.90,438.08 L276.05,438.05 L277.20,438.03 L278.35,438.01 L279.50,437.98 L280.64,437.95 L281.79,437.93 L282.94,437.90 L284.09,437.87 L285.23,437.84 L286.38,437.81 L287.53,437.78 L288.68,437.75 L289.82,437.72 L290.97,437.69 L292.12,437.65 L293.27,437.62 L294.42,437.58 L295.56,437.54 L296.71,437.50 L297.86,437.47 L299.01,437.42 L300.15,437.38 L301.30,437.34 L302.45,437.30 L303.60,437.25 L304.75,437.20 L305.89,437.16 L307.04,437.11 L308.19,437.06 L309.34,437.01 L310.48,436.95 L311.63,436.90 L312.78,436.84 L313.93,436.78 L315.08,436.72 L316.22,436.66 L317.37,436.60 L318.52,436.53 L319.67,436.47 L320.81,436.40 L321.96,436.33 L323.11,436.26 L324.26,436.18 L325.40,436.11 L326.55,436.03 L327.70,435.95 L328.85,435.86 L330.00,435.78 L331.14,435.69 L332.29,435.60 L333.44,435.51 L334.59,435.41 L335.73,435.31 L336.88,435.21 L338.03,435.11 L339.18,435.00 L340.33,434.89 L341.47,434.78 L342.62,434.66 L343.77,434.54 L344.92,434.42 L346.06,434.29 L347.21,434.16 L348.36,434.03 L349.51,433.89 L350.66,433.75 L351.80,433.61 L352.95,433.46 L354.10,433.30 L355.25,433.15 L356.39,432.98 L357.54,432.82 L358.69,432.65 L359.84,432.47 L360.99,432.29 L362.13,432.10 L363.28,431.91 L364.43,431.71 L365.58,431.51 L366.72,431.30 L367.87,431.09 L369.02,430.87 L370.17,430.64 L371.32,430.41 L372.46,430.17 L373.61,429.92 L374.76,429.67 L375.91,429.41 L377.05,429.14 L378.20,428.87 L379.35,428.59 L380.50,428.30 L381.64,428.00 L382.79,427.69 L383.94,427.38 L385.09,427.05 L386.24,426.72 L387.38,426.37 L388.53,426.02 L389.68,425.66 L390.83,425.29 L391.97,424.90 L393.12,424.51 L394.27,424.10 L395.42,423.69 L396.57,423.26 L397.71,422.82 L398.86,422.36 L400.01,421.90 L401.16,421.42 L402.30,420.93 L403.45,420.42 L404.60,419.90 L405.75,419.36 L406.90,418.81 L408.04,418.25 L409.19,417.67 L410.34,417.07 L411.49,416.45 L412.63,415.82 L413.78,415.17 L414.93,414.50 L416.08,413.82 L417.23,413.11 L418.37,412.38 L419.52,411.64 L420.67,410.87 L421.82,410.08 L422.96,409.27 L424.11,408.43 L425.26,407.57 L426.41,406.69 L427.55,405.78 L428.70,404.85 L429.85,403.89 L431.00,402.91 L432.15,401.89 L433.29,400.85 L434.44,399.78 L435.59,398.68 L436.74,397.54 L437.88,396.38 L439.03,395.18 L440.18,393.95 L441.33,392.68 L442.48,391.38 L443.62,390.04 L444.77,388.67 L445.92,387.25 L447.07,385.80 L448.21,384.30 L449.36,382.76 L450.51,381.18 L451.66,379.56 L452.81,377.88 L453.95,376.17 L455.10,374.40 L456.25,372.58 L457.40,370.71 L458.54,368.79 L459.69,366.82 L460.84,364.79 L461.99,362.70 L463.13,360.55 L464.28,358.35 L465.43,356.08 L466.58,353.75 L467.73,351.35 L468.87,348.88 L470.02,346.35 L471.17,343.74 L472.32,341.06 L473.46,338.30 L474.61,335.47 L475.76,332.56 L476.91,329.56 L478.06,326.48 L479.20,323.31 L480.35,320.06 L481.50,316.71 L482.65,313.27 L483.79,309.73 L484.94,306.09 L486.09,302.35 L487.24,298.50 L488.39,294.55 L489.53,290.48 L490.68,286.30 L491.83,282.01 L492.98,277.59 L494.12,273.04 L495.27,268.37 L496.42,263.57 L497.57,258.63 L498.72,253.55 L499.86,248.33 L501.01,242.96 L502.16,237.44 L503.31,231.77 L504.45,225.93 L505.60,219.94 L506.75,213.77 L507.90,207.43 L509.04,200.91 L510.19,194.20 L511.34,187.31 L512.49,180.22 L513.64,172.94 L514.78,165.45 L515.93,157.74 L517.08,149.83 L518.23,141.68 L519.37,133.31 L520.52,124.70 L521.67,115.85 L522.82,106.75 L523.97,97.40 L525.11,87.78 L526.26,77.89 L527.41,67.72 L528.56,57.27 L529.70,46.52 L530.85,35.46 L532.00,24.10 L532.00,24.10 L530.85,41.03 L529.70,57.27 L528.56,72.84 L527.41,87.78 L526.26,102.11 L525.11,115.85 L523.97,129.04 L522.82,141.68 L521.67,153.81 L520.52,165.45 L519.37,176.61 L518.23,187.31 L517.08,197.58 L515.93,207.43 L514.78,216.87 L513.64,225.93 L512.49,234.63 L511.34,242.96 L510.19,250.96 L509.04,258.63 L507.90,265.99 L506.75,273.04 L505.60,279.81 L504.45,286.30 L503.31,292.53 L502.16,298.50 L501.01,304.23 L499.86,309.73 L498.72,315.00 L497.57,320.06 L496.42,324.91 L495.27,329.56 L494.12,334.02 L492.98,338.30 L491.83,342.41 L490.68,346.35 L489.53,350.12 L488.39,353.75 L487.24,357.22 L486.09,360.55 L484.94,363.75 L483.79,366.82 L482.65,369.76 L481.50,372.58 L480.35,375.29 L479.20,377.88 L478.06,380.37 L476.91,382.76 L475.76,385.05 L474.61,387.25 L473.46,389.36 L472.32,391.38 L471.17,393.32 L470.02,395.18 L468.87,396.96 L467.73,398.68 L466.58,400.32 L465.43,401.89 L464.28,403.40 L463.13,404.85 L461.99,406.24 L460.84,407.57 L459.69,408.85 L458.54,410.08 L457.40,411.25 L456.25,412.38 L455.10,413.46 L453.95,414.50 L452.81,415.50 L451.66,416.45 L450.51,417.37 L449.36,418.25 L448.21,419.09 L447.07,419.90 L445.92,420.67 L444.77,421.42 L443.62,422.13 L442.48,422.82 L441.33,423.47 L440.18,424.10 L439.03,424.71 L437.88,425.29 L436.74,425.84 L435.59,426.37 L434.44,426.89 L433.29,427.38 L432.15,427.85 L431.00,428.30 L429.85,428.73 L428.70,429.14 L427.55,429.54 L426.41,429.92 L425.26,430.29 L424.11,430.64 L422.96,430.98 L421.82,431.30 L420.67,431.61 L419.52,431.91 L418.37,432.20 L417.23,432.47 L416.08,432.73 L414.93,432.98 L413.78,433.22 L412.63,433.46 L411.49,433.68 L410.34,433.89 L409.19,434.10 L408.04,434.29 L406.90,434.48 L405.75,434.66 L404.60,434.83 L403.45,435.00 L402.30,435.16 L401.16,435.31 L400.01,435.46 L398.86,435.60 L397.71,435.73 L396.57,435.86 L395.42,435.99 L394.27,436.11 L393.12,436.22 L391.97,436.33 L390.83,436.43 L389.68,436.53 L388.53,436.63 L387.38,436.72 L386.24,436.81 L385.09,436.90 L383.94,436.98 L382.79,437.06 L381.64,437.13 L380.50,437.20 L379.35,437.27 L378.20,437.34 L377.05,437.40 L375.91,437.47 L374.76,437.52 L373.61,437.58 L372.46,437.63 L371.32,437.69 L370.17,437.73 L369.02,437.78 L367.87,437.83 L366.72,437.87 L365.58,437.91 L364.43,437.95 L363.28,437.99 L362.13,438.03 L360.99,438.07 L359.84,438.10 L358.69,438.13 L357.54,438.16 L356.39,438.19 L355.25,438.22 L354.10,438.25 L352.95,438.28 L351.80,438.30 L350.66,438.33 L349.51,438.35 L348.36,438.37 L347.21,438.39 L346.06,438.41 L344.92,438.43 L343.77,438.45 L342.62,438.47 L341.47,438.49 L340.33,438.51 L339.18,438.52 L338.03,438.54 L336.88,438.55 L335.73,438.57 L334.59,438.58 L333.44,438.59 L332.29,438.61 L331.14,438.62 L330.00,438.63 L328.85,438.64 L327.70,438.65 L326.55,438.66 L325.40,438.67 L324.26,438.68 L323.11,438.69 L321.96,438.70 L320.81,438.71 L319.67,438.71 L318.52,438.72 L317.37,438.73 L316.22,438.74 L315.08,438.74 L313.93,438.75 L312.78,438.75 L311.63,438.76 L310.48,438.77 L309.34,438.77 L308.19,438.78 L307.04,438.78 L305.89,438.79 L304.75,438.79 L303.60,438.80 L302.45,438.80 L301.30,438.80 L300.15,438.81 L299.01,438.81 L297.86,438.82 L296.71,438.82 L295.56,438.82 L294.42,438.83 L293.27,438.83 L292.12,438.83 L290.97,438.83 L289.82,438.84 L288.68,438.84 L287.53,438.84 L286.38,438.84 L285.23,438.85 L284.09,438.85 L282.94,438.85 L281.79,438.85 L280.64,438.85 L279.50,438.86 L278.35,438.86 L277.20,438.86 L276.05,438.86 L274.90,438.86 L273.76,438.86 L272.61,438.87 L271.46,438.87 L270.31,438.87 L269.17,438.87 L268.02,438.87 L266.87,438.87 L265.72,438.87 L264.57,438.87 L263.43,438.88 L262.28,438.88 L261.13,438.88 L259.98,438.88 L258.84,438.88 L257.69,438.88 L256.54,438.88 L255.39,438.88 L254.24,438.88 L253.10,438.88 L251.95,438.88 L250.80,438.88 L249.65,438.89 L248.51,438.89 L247.36,438.89 L246.21,438.89 L245.06,438.89 L243.91,438.89 L242.77,438.89 L241.62,438.89 L240.47,438.89 L239.32,438.89 L238.18,438.89 L237.03,438.89 L235.88,438.89 L234.73,438.89 L233.59,438.89 L232.44,438.89 L231.29,438.89 L230.14,438.89 L228.99,438.89 L227.85,438.89 L226.70,438.89 L225.55,438.89 L224.40,438.89 L223.26,438.89 L222.11,438.89 L220.96,438.89 L219.81,438.90 L218.66,438.90 L217.52,438.90 L216.37,438.90 L215.22,438.90 L214.07,438.90 L212.93,438.90 L211.78,438.90 L210.63,438.90 L209.48,438.90 L208.33,438.90 L207.19,438.90 L206.04,438.90 L204.89,438.90 L203.74,438.90 L202.60,438.90 L201.45,438.90 L200.30,438.90 L199.15,438.90 L198.00,438.90 L196.86,438.90 L195.71,438.90 L194.56,438.90 L193.41,438.90 L192.27,438.90 L191.12,438.90 L189.97,438.90 L188.82,438.90 L187.68,438.90 L186.53,438.90 L185.38,438.90 L184.23,438.90 L183.08,438.90 L181.94,438.90 L180.79,438.90 L179.64,438.90 L178.49,438.90 L177.35,438.90 L176.20,438.90 L175.05,438.90 L173.90,438.90 L172.75,438.90 L171.61,438.90 L170.46,438.90 L169.31,438.90 L168.16,438.90 L167.02,438.90 L165.87,438.90 L164.72,438.90 L163.57,438.90 L162.42,438.90 L161.28,438.90 L160.13,438.90 L158.98,438.90 L157.83,438.90 L156.69,438.90 L155.54,438.90 L154.39,438.90 L153.24,438.90 L152.09,438.90 L150.95,438.90 L149.80,438.90 L148.65,438.90 L147.50,438.90 L146.36,438.90 L145.21,438.90 L144.06,438.90 L142.91,438.90 L141.76,438.90 L140.62,438.90 L139.47,438.90 L138.32,438.90 L137.17,438.90 L136.03,438.90 L134.88,438.90 L133.73,438.90 L132.58,438.90 L131.44,438.90 L130.29,438.90 L129.14,438.90 L127.99,438.90 L126.84,438.90 L125.70,438.90 L124.55,438.90 L123.40,438.90 L122.25,438.90 L121.11,438.90 L119.96,438.90 L118.81,438.90 L117.66,438.90 L116.51,438.90 L115.37,438.90 L114.22,438.90 L113.07,438.90 L111.92,438.90 L110.78,438.90 L109.63,438.90 L108.48,438.90 L107.33,438.90 L106.18,438.90 L105.04,438.90 L103.89,438.90 L102.74,438.90 L101.59,438.90 L100.45,438.90 L99.30,438.90 L98.15,438.90 L97.00,438.90 L95.86,438.90 L94.71,438.90 L93.56,438.90 L92.41,438.90 L91.26,438.90 L90.12,438.90 L88.97,438.90 L87.82,438.90 L86.67,438.90 L85.53,438.90 L84.38,438.90 L83.23,438.90 L82.08,438.90 L80.93,438.90 L79.79,438.90 L78.64,438.90 L77.49,438.90 L76.34,438.90 L75.20,438.90 L74.05,438.90 L72.90,438.90 Z" fill="#808080" fill-opacity="0.2" stroke="none"/>
<path d="M72.90,459.64 L72.90,3.36 M164.72,459.64 L164.72,3.36 M256.54,459.64 L256.54,3.36 M348.36,459.64 L348.36,3.36 M440.18,459.64 L440.18,3.36 M532.00,459.64 L532.00,3.36" stroke="#8a8a8a" stroke-width="1.667" stroke-dasharray="1.70 2.74" fill="none"/>
<path d="M72.90,438.90 L532.00,438.90 M72.90,355.94 L532.00,355.94 M72.90,272.98 L532.00,272.98 M72.90,190.02 L532.00,190.02 M72.90,107.06 L532.00,107.06 M72.90,24.10 L532.00,24.10" stroke="#8a8a8a" stroke-width="1.667" stroke-dasharray="1.70 2.74" fill="none"/>
<path d="M72.90,428.78 L74.05,428.74 L75.20,428.70 L76.34,428.66 L77.49,428.61 L78.64,428.57 L79.79,428.52 L80.93,428.48 L82.08,428.43 L83.23,428.38 L84.38,428.33 L85.53,428.28 L86.67,428.23 L87.82,428.17 L88.97,428.12 L90.12,428.06 L91.26,428.01 L92.41,427.95 L93.56,427.89 L94.71,427.83 L95.86,427.76 L97.00,427.70 L98.15,427.64 L99.30,427.57 L100.45,427.50 L101.59,427.43 L102.74,427.36 L103.89,427.29 L105.04,427.21 L106.18,427.14 L107.33,427.06 L108.48,426.98 L109.63,426.90 L110.78,426.81 L111.92,426.73 L113.07,426.64 L114.22,426.55 L115.37,426.46 L116.51,426.37 L117.66,426.27 L118.81,426.17 L119.96,426.08 L121.11,425.97 L122.25,425.87 L123.40,425.76 L124.55,425.65 L125.70,425.54 L126.84,425.43 L127.99,425.31 L129.14,425.19 L130.29,425.07 L131.44,424.95 L132.58,424.82 L133.73,424.69 L134.88,424.56 L136.03,424.42 L137.17,424.28 L138.32,424.14 L139.47,423.99 L140.62,423.85 L141.76,423.69 L142.91,423.54 L144.06,423.38 L145.21,423.22 L146.36,423.05 L147.50,422.88 L148.65,422.71 L149.80,422.53 L150.95,422.35 L152.09,422.17 L153.24,421.98 L154.39,421.79 L155.54,421.59 L156.69,421.39 L157.83,421.18 L158.98,420.97 L160.13,420.76 L161.28,420.54 L162.42,420.31 L163.57,420.08 L164.72,419.85 L165.87,419.61 L167.02,419.36 L168.16,419.11 L169.31,418.86 L170.46,418.60 L171.61,418.33 L172.75,418.06 L173.90,417.78 L175.05,417.49 L176.20,417.20 L177.35,416.91 L178.49,416.60 L179.64,416.29 L180.79,415.98 L181.94,415.65 L183.08,415.32 L184.23,414.99 L185.38,414.64 L186.53,414.29 L187.68,413.93 L188.82,413.56 L189.97,413.19 L191.12,412.81 L192.27,412.42 L193.41,412.02 L194.56,411.61 L195.71,411.20 L196.86,410.77 L198.00,410.34 L199.15,409.90 L200.30,409.45 L201.45,408.99 L202.60,408.52 L203.74,408.04 L204.89,407.55 L206.04,407.05 L207.19,406.54 L208.33,406.02 L209.48,405.49 L210.63,404.95 L211.78,404.40 L212.93,403.84 L214.07,403.26 L215.22,402.68 L216.37,402.08 L217.52,401.47 L218.66,400.85 L219.81,400.22 L220.96,399.57 L222.11,398.91 L223.26,398.24 L224.40,397.56 L225.55,396.86 L226.70,396.15 L227.85,395.42 L228.99,394.69 L230.14,393.93 L231.29,393.17 L232.44,392.39 L233.59,391.59 L234.73,390.78 L235.88,389.95 L237.03,389.11 L238.18,388.26 L239.32,387.39 L240.47,386.50 L241.62,385.60 L242.77,384.68 L243.91,383.74 L245.06,382.79 L246.21,381.82 L247.36,380.83 L248.51,379.83 L249.65,378.80 L250.80,377.76 L251.95,376.71 L253.10,375.63 L254.24,374.54 L255.39,373.43 L256.54,372.30 L257.69,371.15 L258.84,369.98 L259.98,368.80 L261.13,367.59 L262.28,366.37 L263.43,365.12 L264.57,363.86 L265.72,362.58 L266.87,361.27 L268.02,359.95 L269.17,358.61 L270.31,357.24 L271.46,355.86 L272.61,354.45 L273.76,353.03 L274.90,351.59 L276.05,350.12 L277.20,348.63 L278.35,347.13 L279.50,345.60 L280.64,344.05 L281.79,342.48 L282.94,340.89 L284.09,339.28 L285.23,337.65 L286.38,336.00 L287.53,334.33 L288.68,332.64 L289.82,330.92 L290.97,329.19 L292.12,327.44 L293.27,325.66 L294.42,323.87 L295.56,322.05 L296.71,320.22 L297.86,318.36 L299.01,316.49 L300.15,314.60 L301.30,312.68 L302.45,310.75 L303.60,308.80 L304.75,306.83 L305.89,304.85 L307.04,302.84 L308.19,300.82 L309.34,298.78 L310.48,296.72 L311.63,294.65 L312.78,292.56 L313.93,290.45 L315.08,288.33 L316.22,286.19 L317.37,284.04 L318.52,281.87 L319.67,279.69 L320.81,277.49 L321.96,275.28 L323.11,273.06 L324.26,270.83 L325.40,268.58 L326.55,266.32 L327.70,264.05 L328.85,261.77 L330.00,259.49 L331.14,257.19 L332.29,254.88 L333.44,252.56 L334.59,250.24 L335.73,247.91 L336.88,245.57 L338.03,243.23 L339.18,240.88 L340.33,238.53 L341.47,236.17 L342.62,233.81 L343.77,231.45 L344.92,229.08 L346.06,226.71 L347.21,224.34 L348.36,221.97 L349.51,219.60 L350.66,217.23 L351.80,214.87 L352.95,212.50 L354.10,210.14 L355.25,207.77 L356.39,205.42 L357.54,203.06 L358.69,200.72 L359.84,198.37 L360.99,196.04 L362.13,193.71 L363.28,191.38 L364.43,189.07 L365.58,186.76 L366.72,184.46 L367.87,182.17 L369.02,179.89 L370.17,177.63 L371.32,175.37 L372.46,173.12 L373.61,170.89 L374.76,168.67 L375.91,166.46 L377.05,164.26 L378.20,162.08 L379.35,159.91 L380.50,157.76 L381.64,155.62 L382.79,153.50 L383.94,151.39 L385.09,149.30 L386.24,147.23 L387.38,145.17 L388.53,143.13 L389.68,141.11 L390.83,139.10 L391.97,137.11 L393.12,135.15 L394.27,133.19 L395.42,131.26 L396.57,129.35 L397.71,127.46 L398.86,125.58 L400.01,123.73 L401.16,121.90 L402.30,120.08 L403.45,118.29 L404.60,116.51 L405.75,114.76 L406.90,113.02 L408.04,111.31 L409.19,109.62 L410.34,107.95 L411.49,106.29 L412.63,104.66 L413.78,103.05 L414.93,101.46 L416.08,99.89 L417.23,98.35 L418.37,96.82 L419.52,95.31 L420.67,93.83 L421.82,92.36 L422.96,90.92 L424.11,89.49 L425.26,88.09 L426.41,86.71 L427.55,85.34 L428.70,84.00 L429.85,82.68 L431.00,81.37 L432.15,80.09 L433.29,78.83 L434.44,77.58 L435.59,76.36 L436.74,75.15 L437.88,73.96 L439.03,72.80 L440.18,71.65 L441.33,70.52 L442.48,69.41 L443.62,68.31 L444.77,67.24 L445.92,66.18 L447.07,65.14 L448.21,64.12 L449.36,63.12 L450.51,62.13 L451.66,61.16 L452.81,60.21 L453.95,59.27 L455.10,58.35 L456.25,57.45 L457.40,56.56 L458.54,55.69 L459.69,54.83 L460.84,53.99 L461.99,53.17 L463.13,52.36 L464.28,51.56 L465.43,50.78 L466.58,50.01 L467.73,49.26 L468.87,48.52 L470.02,47.80 L471.17,47.09 L472.32,46.39 L473.46,45.71 L474.61,45.04 L475.76,44.38 L476.91,43.73 L478.06,43.10 L479.20,42.48 L480.35,41.87 L481.50,41.27 L482.65,40.69 L483.79,40.11 L484.94,39.55 L486.09,39.00 L487.24,38.46 L488.39,37.93 L489.53,37.41 L490.68,36.90 L491.83,36.40 L492.98,35.91 L494.12,35.43 L495.27,34.96 L496.42,34.50 L497.57,34.05 L498.72,33.61 L499.86,33.18 L501.01,32.75 L502.16,32.34 L503.31,31.93 L504.45,31.53 L505.60,31.14 L506.75,30.76 L507.90,30.38 L509.04,30.02 L510.19,29.66 L511.34,29.31 L512.49,28.96 L513.64,28.63 L514.78,28.29 L515.93,27.97 L517.08,27.66 L518.23,27.35 L519.37,27.04 L520.52,26.75 L521.67,26.45 L522.82,26.17 L523.97,25.89 L525.11,25.62 L526.26,25.35 L527.41,25.09 L528.56,24.83 L529.70,24.58 L530.85,24.34 L532.00,24.10" stroke="#00305e" stroke-width="3.125" fill="none" stroke-linejoin="round" stroke-linecap="butt"/>
<path d="M72.90,430.33 L74.05,430.32 L75.20,430.32 L76.34,430.31 L77.49,430.31 L78.64,430.30 L79.79,430.30 L80.93,430.29 L82.08,430.28 L83.23,430.28 L84.38,430.27 L85.53,430.26 L86.67,430.26 L87.82,430.25 L88.97,430.24 L90.12,430.24 L91.26,430.23 L92.41,430.22 L93.56,430.21 L94.71,430.21 L95.86,430.20 L97.00,430.19 L98.15,430.18 L99.30,430.17 L100.45,430.16 L101.59,430.15 L102.74,430.15 L103.89,430.14 L105.04,430.13 L106.18,430.12 L107.33,430.11 L108.48,430.10 L109.63,430.09 L110.78,430.07 L111.92,430.06 L113.07,430.05 L114.22,430.04 L115.37,430.03 L116.51,430.02 L117.66,430.00 L118.81,429.99 L119.96,429.98 L121.11,429.97 L122.25,429.95 L123.40,429.94 L124.55,429.92 L125.70,429.91 L126.84,429.89 L127.99,429.88 L129.14,429.86 L130.29,429.85 L131.44,429.83 L132.58,429.82 L133.73,429.80 L134.88,429.78 L136.03,429.76 L137.17,429.75 L138.32,429.73 L139.47,429.71 L140.62,429.69 L141.76,429.67 L142.91,429.65 L144.06,429.63 L145.21,429.61 L146.36,429.58 L147.50,429.56 L148.65,429.54 L149.80,429.52 L150.95,429.49 L152.09,429.47 L153.24,429.44 L154.39,429.42 L155.54,429.39 L156.69,429.36 L157.83,429.34 L158.98,429.31 L160.13,429.28 L161.28,429.25 L162.42,429.22 L163.57,429.19 L164.72,429.16 L165.87,429.13 L167.02,429.10 L168.16,429.06 L169.31,429.03 L170.46,428.99 L171.61,428.96 L172.75,428.92 L173.90,428.88 L175.05,428.85 L176.20,428.81 L177.35,428.77 L178.49,428.73 L179.64,428.69 L180.79,428.64 L181.94,428.60 L183.08,428.55 L184.23,428.51 L185.38,428.46 L186.53,428.41 L187.68,428.37 L188.82,428.32 L189.97,428.26 L191.12,428.21 L192.27,428.16 L193.41,428.11 L194.56,428.05 L195.71,427.99 L196.86,427.93 L198.00,427.87 L199.15,427.81 L200.30,427.75 L201.45,427.69 L202.60,427.62 L203.74,427.56 L204.89,427.49 L206.04,427.42 L207.19,427.35 L208.33,427.28 L209.48,427.20 L210.63,427.13 L211.78,427.05 L212.93,426.97 L214.07,426.89 L215.22,426.81 L216.37,426.72 L217.52,426.63 L218.66,426.55 L219.81,426.46 L220.96,426.36 L222.11,426.27 L223.26,426.17 L224.40,426.07 L225.55,425.97 L226.70,425.87 L227.85,425.76 L228.99,425.66 L230.14,425.55 L231.29,425.43 L232.44,425.32 L233.59,425.20 L234.73,425.08 L235.88,424.96 L237.03,424.83 L238.18,424.71 L239.32,424.58 L240.47,424.44 L241.62,424.31 L242.77,424.17 L243.91,424.02 L245.06,423.88 L246.21,423.73 L247.36,423.58 L248.51,423.42 L249.65,423.27 L250.80,423.10 L251.95,422.94 L253.10,422.77 L254.24,422.60 L255.39,422.42 L256.54,422.24 L257.69,422.06 L258.84,421.87 L259.98,421.68 L261.13,421.49 L262.28,421.29 L263.43,421.08 L264.57,420.88 L265.72,420.66 L266.87,420.45 L268.02,420.23 L269.17,420.00 L270.31,419.77 L271.46,419.54 L272.61,419.30 L273.76,419.05 L274.90,418.80 L276.05,418.55 L277.20,418.29 L278.35,418.02 L279.50,417.75 L280.64,417.48 L281.79,417.20 L282.94,416.91 L284.09,416.62 L285.23,416.32 L286.38,416.01 L287.53,415.70 L288.68,415.39 L289.82,415.06 L290.97,414.73 L292.12,414.40 L293.27,414.06 L294.42,413.71 L295.56,413.35 L296.71,412.99 L297.86,412.62 L299.01,412.24 L300.15,411.86 L301.30,411.47 L302.45,411.07 L303.60,410.67 L304.75,410.26 L305.89,409.84 L307.04,409.41 L308.19,408.97 L309.34,408.53 L310.48,408.08 L311.63,407.62 L312.78,407.15 L313.93,406.67 L315.08,406.19 L316.22,405.69 L317.37,405.19 L318.52,404.68 L319.67,404.16 L320.81,403.63 L321.96,403.09 L323.11,402.55 L324.26,401.99 L325.40,401.43 L326.55,400.85 L327.70,400.27 L328.85,399.68 L330.00,399.07 L331.14,398.46 L332.29,397.84 L333.44,397.21 L334.59,396.57 L335.73,395.91 L336.88,395.25 L338.03,394.58 L339.18,393.90 L340.33,393.21 L341.47,392.51 L342.62,391.79 L343.77,391.07 L344.92,390.34 L346.06,389.60 L347.21,388.84 L348.36,388.08 L349.51,387.30 L350.66,386.52 L351.80,385.73 L352.95,384.92 L354.10,384.11 L355.25,383.28 L356.39,382.44 L357.54,381.60 L358.69,380.74 L359.84,379.87 L360.99,379.00 L362.13,378.11 L363.28,377.21 L364.43,376.30 L365.58,375.39 L366.72,374.46 L367.87,373.52 L369.02,372.58 L370.17,371.62 L371.32,370.65 L372.46,369.68 L373.61,368.70 L374.76,367.70 L375.91,366.70 L377.05,365.69 L378.20,364.67 L379.35,363.64 L380.50,362.60 L381.64,361.56 L382.79,360.50 L383.94,359.44 L385.09,358.37 L386.24,357.30 L387.38,356.21 L388.53,355.12 L389.68,354.02 L390.83,352.92 L391.97,351.81 L393.12,350.69 L394.27,349.57 L395.42,348.44 L396.57,347.30 L397.71,346.17 L398.86,345.02 L400.01,343.87 L401.16,342.72 L402.30,341.56 L403.45,340.40 L404.60,339.23 L405.75,338.07 L406.90,336.89 L408.04,335.72 L409.19,334.54 L410.34,333.36 L411.49,332.18 L412.63,331.00 L413.78,329.82 L414.93,328.64 L416.08,327.45 L417.23,326.27 L418.37,325.08 L419.52,323.90 L420.67,322.71 L421.82,321.53 L422.96,320.35 L424.11,319.17 L425.26,317.99 L426.41,316.81 L427.55,315.64 L428.70,314.46 L429.85,313.30 L431.00,312.13 L432.15,310.97 L433.29,309.81 L434.44,308.66 L435.59,307.51 L436.74,306.36 L437.88,305.23 L439.03,304.09 L440.18,302.96 L441.33,301.84 L442.48,300.72 L443.62,299.61 L444.77,298.51 L445.92,297.41 L447.07,296.32 L448.21,295.23 L449.36,294.16 L450.51,293.09 L451.66,292.03 L452.81,290.97 L453.95,289.93 L455.10,288.89 L456.25,287.86 L457.40,286.84 L458.54,285.83 L459.69,284.83 L460.84,283.84 L461.99,282.85 L463.13,281.88 L464.28,280.91 L465.43,279.95 L466.58,279.01 L467.73,278.07 L468.87,277.14 L470.02,276.23 L471.17,275.32 L472.32,274.42 L473.46,273.53 L474.61,272.66 L475.76,271.79 L476.91,270.93 L478.06,270.09 L479.20,269.25 L480.35,268.43 L481.50,267.61 L482.65,266.80 L483.79,266.01 L484.94,265.23 L486.09,264.45 L487.24,263.69 L488.39,262.93 L489.53,262.19 L490.68,261.46 L491.83,260.74 L492.98,260.02 L494.12,259.32 L495.27,258.63 L496.42,257.95 L497.57,257.28 L498.72,256.62 L499.86,255.96 L501.01,255.32 L502.16,254.69 L503.31,254.07 L504.45,253.46 L505.60,252.85 L506.75,252.26 L507.90,251.68 L509.04,251.10 L510.19,250.54 L511.34,249.98 L512.49,249.44 L513.64,248.90 L514.78,248.37 L515.93,247.85 L517.08,247.34 L518.23,246.84 L519.37,246.34 L520.52,245.86 L521.67,245.38 L522.82,244.91 L523.97,244.45 L525.11,244.00 L526.26,243.56 L527.41,243.12 L528.56,242.69 L529.70,242.27 L530.85,241.86 L532.00,241.46" stroke="#00305e" stroke-width="3.125" fill="none" stroke-linejoin="round" stroke-linecap="butt"/>
<path d="M72.90,427.24 L74.05,427.13 L75.20,427.03 L76.34,426.92 L77.49,426.81 L78.64,426.71 L79.79,426.60 L80.93,426.49 L82.08,426.37 L83.23,426.26 L84.38,426.15 L85.53,426.03 L86.67,425.92 L87.82,425.80 L88.97,425.68 L90.12,425.57 L91.26,425.45 L92.41,425.33 L93.56,425.20 L94.71,425.08 L95.86,424.96 L97.00,424.83 L98.15,424.71 L99.30,424.58 L100.45,424.45 L101.59,424.32 L102.74,424.19 L103.89,424.06 L105.04,423.93 L106.18,423.79 L107.33,423.66 L108.48,423.52 L109.63,423.38 L110.78,423.24 L111.92,423.10 L113.07,422.96 L114.22,422.82 L115.37,422.67 L116.51,422.53 L117.66,422.38 L118.81,422.23 L119.96,422.08 L121.11,421.93 L122.25,421.78 L123.40,421.63 L124.55,421.47 L125.70,421.31 L126.84,421.16 L127.99,421.00 L129.14,420.84 L130.29,420.67 L131.44,420.51 L132.58,420.35 L133.73,420.18 L134.88,420.01 L136.03,419.84 L137.17,419.67 L138.32,419.50 L139.47,419.33 L140.62,419.15 L141.76,418.97 L142.91,418.79 L144.06,418.61 L145.21,418.43 L146.36,418.25 L147.50,418.06 L148.65,417.88 L149.80,417.69 L150.95,417.50 L152.09,417.31 L153.24,417.11 L154.39,416.92 L155.54,416.72 L156.69,416.52 L157.83,416.32 L158.98,416.12 L160.13,415.91 L161.28,415.71 L162.42,415.50 L163.57,415.29 L164.72,415.08 L165.87,414.86 L167.02,414.65 L168.16,414.43 L169.31,414.21 L170.46,413.99 L171.61,413.77 L172.75,413.54 L173.90,413.31 L175.05,413.08 L176.20,412.85 L177.35,412.62 L178.49,412.38 L179.64,412.14 L180.79,411.90 L181.94,411.66 L183.08,411.42 L184.23,411.17 L185.38,410.92 L186.53,410.67 L187.68,410.42 L188.82,410.16 L189.97,409.91 L191.12,409.65 L192.27,409.38 L193.41,409.12 L194.56,408.85 L195.71,408.58 L196.86,408.31 L198.00,408.04 L199.15,407.76 L200.30,407.48 L201.45,407.20 L202.60,406.91 L203.74,406.63 L204.89,406.34 L206.04,406.05 L207.19,405.75 L208.33,405.45 L209.48,405.15 L210.63,404.85 L211.78,404.55 L212.93,404.24 L214.07,403.93 L215.22,403.61 L216.37,403.30 L217.52,402.98 L218.66,402.66 L219.81,402.33 L220.96,402.00 L222.11,401.67 L223.26,401.34 L224.40,401.00 L225.55,400.66 L226.70,400.32 L227.85,399.97 L228.99,399.62 L230.14,399.27 L231.29,398.91 L232.44,398.56 L233.59,398.19 L234.73,397.83 L235.88,397.46 L237.03,397.09 L238.18,396.71 L239.32,396.34 L240.47,395.95 L241.62,395.57 L242.77,395.18 L243.91,394.79 L245.06,394.39 L246.21,393.99 L247.36,393.59 L248.51,393.18 L249.65,392.77 L250.80,392.36 L251.95,391.94 L253.10,391.52 L254.24,391.10 L255.39,390.67 L256.54,390.24 L257.69,389.80 L258.84,389.36 L259.98,388.91 L261.13,388.47 L262.28,388.01 L263.43,387.56 L264.57,387.10 L265.72,386.63 L266.87,386.16 L268.02,385.69 L269.17,385.21 L270.31,384.73 L271.46,384.25 L272.61,383.76 L273.76,383.26 L274.90,382.76 L276.05,382.26 L277.20,381.75 L278.35,381.24 L279.50,380.72 L280.64,380.20 L281.79,379.67 L282.94,379.14 L284.09,378.61 L285.23,378.07 L286.38,377.52 L287.53,376.97 L288.68,376.41 L289.82,375.85 L290.97,375.29 L292.12,374.72 L293.27,374.14 L294.42,373.56 L295.56,372.98 L296.71,372.38 L297.86,371.79 L299.01,371.19 L300.15,370.58 L301.30,369.97 L302.45,369.35 L303.60,368.72 L304.75,368.09 L305.89,367.46 L307.04,366.82 L308.19,366.17 L309.34,365.52 L310.48,364.86 L311.63,364.20 L312.78,363.53 L313.93,362.85 L315.08,362.17 L316.22,361.48 L317.37,360.79 L318.52,360.09 L319.67,359.38 L320.81,358.67 L321.96,357.95 L323.11,357.22 L324.26,356.49 L325.40,355.75 L326.55,355.00 L327.70,354.25 L328.85,353.49 L330.00,352.73 L331.14,351.95 L332.29,351.17 L333.44,350.39 L334.59,349.59 L335.73,348.79 L336.88,347.98 L338.03,347.17 L339.18,346.35 L340.33,345.52 L341.47,344.68 L342.62,343.83 L343.77,342.98 L344.92,342.12 L346.06,341.25 L347.21,340.38 L348.36,339.49 L349.51,338.60 L350.66,337.70 L351.80,336.79 L352.95,335.88 L354.10,334.95 L355.25,334.02 L356.39,333.08 L357.54,332.13 L358.69,331.17 L359.84,330.21 L360.99,329.23 L362.13,328.25 L363.28,327.26 L364.43,326.26 L365.58,325.25 L366.72,324.23 L367.87,323.20 L369.02,322.16 L370.17,321.11 L371.32,320.06 L372.46,318.99 L373.61,317.92 L374.76,316.83 L375.91,315.74 L377.05,314.63 L378.20,313.52 L379.35,312.39 L380.50,311.26 L381.64,310.11 L382.79,308.96 L383.94,307.79 L385.09,306.62 L386.24,305.43 L387.38,304.23 L388.53,303.03 L389.68,301.81 L390.83,300.58 L391.97,299.34 L393.12,298.09 L394.27,296.82 L395.42,295.55 L396.57,294.26 L397.71,292.97 L398.86,291.66 L400.01,290.34 L401.16,289.00 L402.30,287.66 L403.45,286.30 L404.60,284.94 L405.75,283.55 L406.90,282.16 L408.04,280.76 L409.19,279.34 L410.34,277.91 L411.49,276.46 L412.63,275.01 L413.78,273.54 L414.93,272.05 L416.08,270.56 L417.23,269.05 L418.37,267.52 L419.52,265.99 L420.67,264.43 L421.82,262.87 L422.96,261.29 L424.11,259.70 L425.26,258.09 L426.41,256.47 L427.55,254.83 L428.70,253.18 L429.85,251.52 L431.00,249.84 L432.15,248.14 L433.29,246.43 L434.44,244.70 L435.59,242.96 L436.74,241.21 L437.88,239.43 L439.03,237.64 L440.18,235.84 L441.33,234.02 L442.48,232.18 L443.62,230.33 L444.77,228.45 L445.92,226.57 L447.07,224.66 L448.21,222.74 L449.36,220.80 L450.51,218.85 L451.66,216.87 L452.81,214.88 L453.95,212.87 L455.10,210.85 L456.25,208.80 L457.40,206.74 L458.54,204.65 L459.69,202.55 L460.84,200.43 L461.99,198.30 L463.13,196.14 L464.28,193.96 L465.43,191.76 L466.58,189.55 L467.73,187.31 L468.87,185.05 L470.02,182.78 L471.17,180.48 L472.32,178.16 L473.46,175.82 L474.61,173.47 L475.76,171.08 L476.91,168.68 L478.06,166.26 L479.20,163.81 L480.35,161.35 L481.50,158.86 L482.65,156.35 L483.79,153.81 L484.94,151.26 L486.09,148.68 L487.24,146.07 L488.39,143.45 L489.53,140.80 L490.68,138.12 L491.83,135.43 L492.98,132.70 L494.12,129.96 L495.27,127.19 L496.42,124.39 L497.57,121.57 L498.72,118.72 L499.86,115.85 L501.01,112.96 L502.16,110.03 L503.31,107.08 L504.45,104.11 L505.60,101.10 L506.75,98.08 L507.90,95.02 L509.04,91.93 L510.19,88.82 L511.34,85.68 L512.49,82.52 L513.64,79.32 L514.78,76.09 L515.93,72.84 L517.08,69.56 L518.23,66.24 L519.37,62.90 L520.52,59.53 L521.67,56.13 L522.82,52.70 L523.97,49.23 L525.11,45.74 L526.26,42.21 L527.41,38.65 L528.56,35.06 L529.70,31.44 L530.85,27.79 L532.00,24.10" stroke="#f08c00" stroke-width="3.125" fill="none" stroke-linejoin="round" stroke-linecap="butt"/>
<path d="M72.90,438.57 L74.05,438.57 L75.20,438.56 L76.34,438.55 L77.49,438.55 L78.64,438.54 L79.79,438.54 L80.93,438.53 L82.08,438.52 L83.23,438.51 L84.38,438.51 L85.53,438.50 L86.67,438.49 L87.82,438.49 L88.97,438.48 L90.12,438.47 L91.26,438.46 L92.41,438.46 L93.56,438.45 L94.71,438.44 L95.86,438.43 L97.00,438.42 L98.15,438.41 L99.30,438.41 L100.45,438.40 L101.59,438.39 L102.74,438.38 L103.89,438.37 L105.04,438.36 L106.18,438.35 L107.33,438.34 L108.48,438.33 L109.63,438.32 L110.78,438.31 L111.92,438.30 L113.07,438.29 L114.22,438.28 L115.37,438.27 L116.51,438.25 L117.66,438.24 L118.81,438.23 L119.96,438.22 L121.11,438.21 L122.25,438.19 L123.40,438.18 L124.55,438.17 L125.70,438.15 L126.84,438.14 L127.99,438.13 L129.14,438.11 L130.29,438.10 L131.44,438.08 L132.58,438.07 L133.73,438.06 L134.88,438.04 L136.03,438.02 L137.17,438.01 L138.32,437.99 L139.47,437.98 L140.62,437.96 L141.76,437.94 L142.91,437.93 L144.06,437.91 L145.21,437.89 L146.36,437.87 L147.50,437.85 L148.65,437.83 L149.80,437.82 L150.95,437.80 L152.09,437.78 L153.24,437.76 L154.39,437.73 L155.54,437.71 L156.69,437.69 L157.83,437.67 L158.98,437.65 L160.13,437.63 L161.28,437.60 L162.42,437.58 L163.57,437.56 L164.72,437.53 L165.87,437.51 L167.02,437.48 L168.16,437.46 L169.31,437.43 L170.46,437.40 L171.61,437.38 L172.75,437.35 L173.90,437.32 L175.05,437.29 L176.20,437.26 L177.35,437.23 L178.49,437.20 L179.64,437.17 L180.79,437.14 L181.94,437.11 L183.08,437.08 L184.23,437.05 L185.38,437.01 L186.53,436.98 L187.68,436.94 L188.82,436.91 L189.97,436.87 L191.12,436.84 L192.27,436.80 L193.41,436.76 L194.56,436.72 L195.71,436.68 L196.86,436.64 L198.00,436.60 L199.15,436.56 L200.30,436.52 L201.45,436.48 L202.60,436.43 L203.74,436.39 L204.89,436.34 L206.04,436.30 L207.19,436.25 L208.33,436.20 L209.48,436.15 L210.63,436.11 L211.78,436.05 L212.93,436.00 L214.07,435.95 L215.22,435.90 L216.37,435.84 L217.52,435.79 L218.66,435.73 L219.81,435.68 L220.96,435.62 L222.11,435.56 L223.26,435.50 L224.40,435.44 L225.55,435.37 L226.70,435.31 L227.85,435.25 L228.99,435.18 L230.14,435.11 L231.29,435.05 L232.44,434.98 L233.59,434.91 L234.73,434.83 L235.88,434.76 L237.03,434.69 L238.18,434.61 L239.32,434.53 L240.47,434.45 L241.62,434.37 L242.77,434.29 L243.91,434.21 L245.06,434.12 L246.21,434.04 L247.36,433.95 L248.51,433.86 L249.65,433.77 L250.80,433.68 L251.95,433.58 L253.10,433.49 L254.24,433.39 L255.39,433.29 L256.54,433.19 L257.69,433.09 L258.84,432.98 L259.98,432.88 L261.13,432.77 L262.28,432.66 L263.43,432.55 L264.57,432.43 L265.72,432.31 L266.87,432.20 L268.02,432.07 L269.17,431.95 L270.31,431.83 L271.46,431.70 L272.61,431.57 L273.76,431.44 L274.90,431.30 L276.05,431.17 L277.20,431.03 L278.35,430.88 L279.50,430.74 L280.64,430.59 L281.79,430.44 L282.94,430.29 L284.09,430.14 L285.23,429.98 L286.38,429.82 L287.53,429.65 L288.68,429.49 L289.82,429.32 L290.97,429.14 L292.12,428.97 L293.27,428.79 L294.42,428.61 L295.56,428.42 L296.71,428.23 L297.86,428.04 L299.01,427.85 L300.15,427.65 L301.30,427.44 L302.45,427.24 L303.60,427.03 L304.75,426.81 L305.89,426.60 L307.04,426.37 L308.19,426.15 L309.34,425.92 L310.48,425.68 L311.63,425.45 L312.78,425.20 L313.93,424.96 L315.08,424.71 L316.22,424.45 L317.37,424.19 L318.52,423.93 L319.67,423.66 L320.81,423.38 L321.96,423.10 L323.11,422.82 L324.26,422.53 L325.40,422.23 L326.55,421.93 L327.70,421.63 L328.85,421.31 L330.00,421.00 L331.14,420.67 L332.29,420.35 L333.44,420.01 L334.59,419.67 L335.73,419.33 L336.88,418.97 L338.03,418.61 L339.18,418.25 L340.33,417.88 L341.47,417.50 L342.62,417.11 L343.77,416.72 L344.92,416.32 L346.06,415.91 L347.21,415.50 L348.36,415.08 L349.51,414.65 L350.66,414.21 L351.80,413.77 L352.95,413.31 L354.10,412.85 L355.25,412.38 L356.39,411.90 L357.54,411.42 L358.69,410.92 L359.84,410.42 L360.99,409.91 L362.13,409.38 L363.28,408.85 L364.43,408.31 L365.58,407.76 L366.72,407.20 L367.87,406.63 L369.02,406.05 L370.17,405.45 L371.32,404.85 L372.46,404.24 L373.61,403.61 L374.76,402.98 L375.91,402.33 L377.05,401.67 L378.20,401.00 L379.35,400.32 L380.50,399.62 L381.64,398.91 L382.79,398.19 L383.94,397.46 L385.09,396.71 L386.24,395.95 L387.38,395.18 L388.53,394.39 L389.68,393.59 L390.83,392.77 L391.97,391.94 L393.12,391.10 L394.27,390.24 L395.42,389.36 L396.57,388.47 L397.71,387.56 L398.86,386.63 L400.01,385.69 L401.16,384.73 L402.30,383.76 L403.45,382.76 L404.60,381.75 L405.75,380.72 L406.90,379.67 L408.04,378.61 L409.19,377.52 L410.34,376.41 L411.49,375.29 L412.63,374.14 L413.78,372.98 L414.93,371.79 L416.08,370.58 L417.23,369.35 L418.37,368.09 L419.52,366.82 L420.67,365.52 L421.82,364.20 L422.96,362.85 L424.11,361.48 L425.26,360.09 L426.41,358.67 L427.55,357.22 L428.70,355.75 L429.85,354.25 L431.00,352.73 L432.15,351.17 L433.29,349.59 L434.44,347.98 L435.59,346.35 L436.74,344.68 L437.88,342.98 L439.03,341.25 L440.18,339.49 L441.33,337.70 L442.48,335.88 L443.62,334.02 L444.77,332.13 L445.92,330.21 L447.07,328.25 L448.21,326.26 L449.36,324.23 L450.51,322.16 L451.66,320.06 L452.81,317.92 L453.95,315.74 L455.10,313.52 L456.25,311.26 L457.40,308.96 L458.54,306.62 L459.69,304.23 L460.84,301.81 L461.99,299.34 L463.13,296.82 L464.28,294.26 L465.43,291.66 L466.58,289.00 L467.73,286.30 L468.87,283.55 L470.02,280.76 L471.17,277.91 L472.32,275.01 L473.46,272.05 L474.61,269.05 L475.76,265.99 L476.91,262.87 L478.06,259.70 L479.20,256.47 L480.35,253.18 L481.50,249.84 L482.65,246.43 L483.79,242.96 L484.94,239.43 L486.09,235.84 L487.24,232.18 L488.39,228.45 L489.53,224.66 L490.68,220.80 L491.83,216.87 L492.98,212.87 L494.12,208.80 L495.27,204.65 L496.42,200.43 L497.57,196.14 L498.72,191.76 L499.86,187.31 L501.01,182.78 L502.16,178.16 L503.31,173.47 L504.45,168.68 L505.60,163.81 L506.75,158.86 L507.90,153.81 L509.04,148.68 L510.19,143.45 L511.34,138.12 L512.49,132.70 L513.64,127.19 L514.78,121.57 L515.93,115.85 L517.08,110.03 L518.23,104.11 L519.37,98.08 L520.52,91.93 L521.67,85.68 L522.82,79.32 L523.97,72.84 L525.11,66.24 L526.26,59.53 L527.41,52.70 L528.56,45.74 L529.70,38.65 L530.85,31.44 L532.00,24.10" stroke="#f08c00" stroke-width="3.125" fill="none" stroke-linejoin="round" stroke-linecap="butt"/>
<path d="M72.90,438.89 L74.05,438.89 L75.20,438.89 L76.34,438.89 L77.49,438.89 L78.64,438.89 L79.79,438.89 L80.93,438.89 L82.08,438.89 L83.23,438.89 L84.38,438.89 L85.53,438.89 L86.67,438.89 L87.82,438.89 L88.97,438.89 L90.12,438.89 L91.26,438.89 L92.41,438.89 L93.56,438.89 L94.71,438.89 L95.86,438.89 L97.00,438.89 L98.15,438.89 L99.30,438.89 L100.45,438.89 L101.59,438.89 L102.74,438.89 L103.89,438.89 L105.04,438.89 L106.18,438.89 L107.33,438.89 L108.48,438.89 L109.63,438.88 L110.78,438.88 L111.92,438.88 L113.07,438.88 L114.22,438.88 L115.37,438.88 L116.51,438.88 L117.66,438.88 L118.81,438.88 L119.96,438.88 L121.11,438.88 L122.25,438.88 L123.40,438.88 L124.55,438.88 L125.70,438.88 L126.84,438.88 L127.99,438.88 L129.14,438.88 L130.29,438.88 L131.44,438.87 L132.58,438.87 L133.73,438.87 L134.88,438.87 L136.03,438.87 L137.17,438.87 L138.32,438.87 L139.47,438.87 L140.62,438.87 L141.76,438.87 L142.91,438.87 L144.06,438.87 L145.21,438.86 L146.36,438.86 L147.50,438.86 L148.65,438.86 L149.80,438.86 L150.95,438.86 L152.09,438.86 L153.24,438.86 L154.39,438.86 L155.54,438.85 L156.69,438.85 L157.83,438.85 L158.98,438.85 L160.13,438.85 L161.28,438.85 L162.42,438.85 L163.57,438.84 L164.72,438.84 L165.87,438.84 L167.02,438.84 L168.16,438.84 L169.31,438.84 L170.46,438.83 L171.61,438.83 L172.75,438.83 L173.90,438.83 L175.05,438.83 L176.20,438.82 L177.35,438.82 L178.49,438.82 L179.64,438.82 L180.79,438.82 L181.94,438.81 L183.08,438.81 L184.23,438.81 L185.38,438.81 L186.53,438.80 L187.68,438.80 L188.82,438.80 L189.97,438.79 L191.12,438.79 L192.27,438.79 L193.41,438.79 L194.56,438.78 L195.71,438.78 L196.86,438.78 L198.00,438.77 L199.15,438.77 L200.30,438.76 L201.45,438.76 L202.60,438.76 L203.74,438.75 L204.89,438.75 L206.04,438.74 L207.19,438.74 L208.33,438.74 L209.48,438.73 L210.63,438.73 L211.78,438.72 L212.93,438.72 L214.07,438.71 L215.22,438.71 L216.37,438.70 L217.52,438.69 L218.66,438.69 L219.81,438.68 L220.96,438.68 L222.11,438.67 L223.26,438.66 L224.40,438.66 L225.55,438.65 L226.70,438.64 L227.85,438.64 L228.99,438.63 L230.14,438.62 L231.29,438.61 L232.44,438.61 L233.59,438.60 L234.73,438.59 L235.88,438.58 L237.03,438.57 L238.18,438.56 L239.32,438.55 L240.47,438.54 L241.62,438.53 L242.77,438.52 L243.91,438.51 L245.06,438.50 L246.21,438.49 L247.36,438.48 L248.51,438.47 L249.65,438.45 L250.80,438.44 L251.95,438.43 L253.10,438.41 L254.24,438.40 L255.39,438.39 L256.54,438.37 L257.69,438.36 L258.84,438.34 L259.98,438.33 L261.13,438.31 L262.28,438.29 L263.43,438.28 L264.57,438.26 L265.72,438.24 L266.87,438.22 L268.02,438.20 L269.17,438.18 L270.31,438.16 L271.46,438.14 L272.61,438.12 L273.76,438.10 L274.90,438.08 L276.05,438.05 L277.20,438.03 L278.35,438.01 L279.50,437.98 L280.64,437.95 L281.79,437.93 L282.94,437.90 L284.09,437.87 L285.23,437.84 L286.38,437.81 L287.53,437.78 L288.68,437.75 L289.82,437.72 L290.97,437.69 L292.12,437.65 L293.27,437.62 L294.42,437.58 L295.56,437.54 L296.71,437.50 L297.86,437.47 L299.01,437.42 L300.15,437.38 L301.30,437.34 L302.45,437.30 L303.60,437.25 L304.75,437.20 L305.89,437.16 L307.04,437.11 L308.19,437.06 L309.34,437.01 L310.48,436.95 L311.63,436.90 L312.78,436.84 L313.93,436.78 L315.08,436.72 L316.22,436.66 L317.37,436.60 L318.52,436.53 L319.67,436.47 L320.81,436.40 L321.96,436.33 L323.11,436.26 L324.26,436.18 L325.40,436.11 L326.55,436.03 L327.70,435.95 L328.85,435.86 L330.00,435.78 L331.14,435.69 L332.29,435.60 L333.44,435.51 L334.59,435.41 L335.73,435.31 L336.88,435.21 L338.03,435.11 L339.18,435.00 L340.33,434.89 L341.47,434.78 L342.62,434.66 L343.77,434.54 L344.92,434.42 L346.06,434.29 L347.21,434.16 L348.36,434.03 L349.51,433.89 L350.66,433.75 L351.80,433.61 L352.95,433.46 L354.10,433.30 L355.25,433.15 L356.39,432.98 L357.54,432.82 L358.69,432.65 L359.84,432.47 L360.99,432.29 L362.13,432.10 L363.28,431.91 L364.43,431.71 L365.58,431.51 L366.72,431.30 L367.87,431.09 L369.02,430.87 L370.17,430.64 L371.32,430.41 L372.46,430.17 L373.61,429.92 L374.76,429.67 L375.91,429.41 L377.05,429.14 L378.20,428.87 L379.35,428.59 L380.50,428.30 L381.64,428.00 L382.79,427.69 L383.94,427.38 L385.09,427.05 L386.24,426.72 L387.38,426.37 L388.53,426.02 L389.68,425.66 L390.83,425.29 L391.97,424.90 L393.12,424.51 L394.27,424.10 L395.42,423.69 L396.57,423.26 L397.71,422.82 L398.86,422.36 L400.01,421.90 L401.16,421.42 L402.30,420.93 L403.45,420.42 L404.60,419.90 L405.75,419.36 L406.90,418.81 L408.04,418.25 L409.19,417.67 L410.34,417.07 L411.49,416.45 L412.63,415.82 L413.78,415.17 L414.93,414.50 L416.08,413.82 L417.23,413.11 L418.37,412.38 L419.52,411.64 L420.67,410.87 L421.82,410.08 L422.96,409.27 L424.11,408.43 L425.26,407.57 L426.41,406.69 L427.55,405.78 L428.70,404.85 L429.85,403.89 L431.00,402.91 L432.15,401.89 L433.29,400.85 L434.44,399.78 L435.59,398.68 L436.74,397.54 L437.88,396.38 L439.03,395.18 L440.18,393.95 L441.33,392.68 L442.48,391.38 L443.62,390.04 L444.77,388.67 L445.92,387.25 L447.07,385.80 L448.21,384.30 L449.36,382.76 L450.51,381.18 L451.66,379.56 L452.81,377.88 L453.95,376.17 L455.10,374.40 L456.25,372.58 L457.40,370.71 L458.54,368.79 L459.69,366.82 L460.84,364.79 L461.99,362.70 L463.13,360.55 L464.28,358.35 L465.43,356.08 L466.58,353.75 L467.73,351.35 L468.87,348.88 L470.02,346.35 L471.17,343.74 L472.32,341.06 L473.46,338.30 L474.61,335.47 L475.76,332.56 L476.91,329.56 L478.06,326.48 L479.20,323.31 L480.35,320.06 L481.50,316.71 L482.65,313.27 L483.79,309.73 L484.94,306.09 L486.09,302.35 L487.24,298.50 L488.39,294.55 L489.53,290.48 L490.68,286.30 L491.83,282.01 L492.98,277.59 L494.12,273.04 L495.27,268.37 L496.42,263.57 L497.57,258.63 L498.72,253.55 L499.86,248.33 L501.01,242.96 L502.16,237.44 L503.31,231.77 L504.45,225.93 L505.60,219.94 L506.75,213.77 L507.90,207.43 L509.04,200.91 L510.19,194.20 L511.34,187.31 L512.49,180.22 L513.64,172.94 L514.78,165.45 L515.93,157.74 L517.08,149.83 L518.23,141.68 L519.37,133.31 L520.52,124.70 L521.67,115.85 L522.82,106.75 L523.97,97.40 L525.11,87.78 L526.26,77.89 L527.41,67.72 L528.56,57.27 L529.70,46.52 L530.85,35.46 L532.00,24.10" stroke="#808080" stroke-width="3.125" fill="none" stroke-linejoin="round" stroke-linecap="butt"/>
<path d="M72.90,438.90 L74.05,438.90 L75.20,438.90 L76.34,438.90 L77.49,438.90 L78.64,438.90 L79.79,438.90 L80.93,438.90 L82.08,438.90 L83.23,438.90 L84.38,438.90 L85.53,438.90 L86.67,438.90 L87.82,438.90 L88.97,438.90 L90.12,438.90 L91.26,438.90 L92.41,438.90 L93.56,438.90 L94.71,438.90 L95.86,438.90 L97.00,438.90 L98.15,438.90 L99.30,438.90 L100.45,438.90 L101.59,438.90 L102.74,438.90 L103.89,438.90 L105.04,438.90 L106.18,438.90 L107.33,438.90 L108.48,438.90 L109.63,438.90 L110.78,438.90 L111.92,438.90 L113.07,438.90 L114.22,438.90 L115.37,438.90 L116.51,438.90 L117.66,438.90 L118.81,438.90 L119.96,438.90 L121.11,438.90 L122.25,438.90 L123.40,438.90 L124.55,438.90 L125.70,438.90 L126.84,438.90 L127.99,438.90 L129.14,438.90 L130.29,438.90 L131.44,438.90 L132.58,438.90 L133.73,438.90 L134.88,438.90 L136.03,438.90 L137.17,438.90 L138.32,438.90 L139.47,438.90 L140.62,438.90 L141.76,438.90 L142.91,438.90 L144.06,438.90 L145.21,438.90 L146.36,438.90 L147.50,438.90 L148.65,438.90 L149.80,438.90 L150.95,438.90 L152.09,438.90 L153.24,438.90 L154.39,438.90 L155.54,438.90 L156.69,438.90 L157.83,438.90 L158.98,438.90 L160.13,438.90 L161.28,438.90 L162.42,438.90 L163.57,438.90 L164.72,438.90 L165.87,438.90 L167.02,438.90 L168.16,438.90 L169.31,438.90 L170.46,438.90 L171.61,438.90 L172.75,438.90 L173.90,438.90 L175.05,438.90 L176.20,438.90 L177.35,438.90 L178.49,438.90 L179.64,438.90 L180.79,438.90 L181.94,438.90 L183.08,438.90 L184.23,438.90 L185.38,438.90 L186.53,438.90 L187.68,438.90 L188.82,438.90 L189.97,438.90 L191.12,438.90 L192.27,438.90 L193.41,438.90 L194.56,438.90 L195.71,438.90 L196.86,438.90 L198.00,438.90 L199.15,438.90 L200.30,438.90 L201.45,438.90 L202.60,438.90 L203.74,438.90 L204.89,438.90 L206.04,438.90 L207.19,438.90 L208.33,438.90 L209.48,438.90 L210.63,438.90 L211.78,438.90 L212.93,438.90 L214.07,438.90 L215.22,438.90 L216.37,438.90 L217.52,438.90 L218.66,438.90 L219.81,438.90 L220.96,438.89 L222.11,438.89 L223.26,438.89 L224.40,438.89 L225.55,438.89 L226.70,438.89 L227.85,438.89 L228.99,438.89 L230.14,438.89 L231.29,438.89 L232.44,438.89 L233.59,438.89 L234.73,438.89 L235.88,438.89 L237.03,438.89 L238.18,438.89 L239.32,438.89 L240.47,438.89 L241.62,438.89 L242.77,438.89 L243.91,438.89 L245.06,438.89 L246.21,438.89 L247.36,438.89 L248.51,438.89 L249.65,438.89 L250.80,438.88 L251.95,438.88 L253.10,438.88 L254.24,438.88 L255.39,438.88 L256.54,438.88 L257.69,438.88 L258.84,438.88 L259.98,438.88 L261.13,438.88 L262.28,438.88 L263.43,438.88 L264.57,438.87 L265.72,438.87 L266.87,438.87 L268.02,438.87 L269.17,438.87 L270.31,438.87 L271.46,438.87 L272.61,438.87 L273.76,438.86 L274.90,438.86 L276.05,438.86 L277.20,438.86 L278.35,438.86 L279.50,438.86 L280.64,438.85 L281.79,438.85 L282.94,438.85 L284.09,438.85 L285.23,438.85 L286.38,438.84 L287.53,438.84 L288.68,438.84 L289.82,438.84 L290.97,438.83 L292.12,438.83 L293.27,438.83 L294.42,438.83 L295.56,438.82 L296.71,438.82 L297.86,438.82 L299.01,438.81 L300.15,438.81 L301.30,438.80 L302.45,438.80 L303.60,438.80 L304.75,438.79 L305.89,438.79 L307.04,438.78 L308.19,438.78 L309.34,438.77 L310.48,438.77 L311.63,438.76 L312.78,438.75 L313.93,438.75 L315.08,438.74 L316.22,438.74 L317.37,438.73 L318.52,438.72 L319.67,438.71 L320.81,438.71 L321.96,438.70 L323.11,438.69 L324.26,438.68 L325.40,438.67 L326.55,438.66 L327.70,438.65 L328.85,438.64 L330.00,438.63 L331.14,438.62 L332.29,438.61 L333.44,438.59 L334.59,438.58 L335.73,438.57 L336.88,438.55 L338.03,438.54 L339.18,438.52 L340.33,438.51 L341.47,438.49 L342.62,438.47 L343.77,438.45 L344.92,438.43 L346.06,438.41 L347.21,438.39 L348.36,438.37 L349.51,438.35 L350.66,438.33 L351.80,438.30 L352.95,438.28 L354.10,438.25 L355.25,438.22 L356.39,438.19 L357.54,438.16 L358.69,438.13 L359.84,438.10 L360.99,438.07 L362.13,438.03 L363.28,437.99 L364.43,437.95 L365.58,437.91 L366.72,437.87 L367.87,437.83 L369.02,437.78 L370.17,437.73 L371.32,437.69 L372.46,437.63 L373.61,437.58 L374.76,437.52 L375.91,437.47 L377.05,437.40 L378.20,437.34 L379.35,437.27 L380.50,437.20 L381.64,437.13 L382.79,437.06 L383.94,436.98 L385.09,436.90 L386.24,436.81 L387.38,436.72 L388.53,436.63 L389.68,436.53 L390.83,436.43 L391.97,436.33 L393.12,436.22 L394.27,436.11 L395.42,435.99 L396.57,435.86 L397.71,435.73 L398.86,435.60 L400.01,435.46 L401.16,435.31 L402.30,435.16 L403.45,435.00 L404.60,434.83 L405.75,434.66 L406.90,434.48 L408.04,434.29 L409.19,434.10 L410.34,433.89 L411.49,433.68 L412.63,433.46 L413.78,433.22 L414.93,432.98 L416.08,432.73 L417.23,432.47 L418.37,432.20 L419.52,431.91 L420.67,431.61 L421.82,431.30 L422.96,430.98 L424.11,430.64 L425.26,430.29 L426.41,429.92 L427.55,429.54 L428.70,429.14 L429.85,428.73 L431.00,428.30 L432.15,427.85 L433.29,427.38 L434.44,426.89 L435.59,426.37 L436.74,425.84 L437.88,425.29 L439.03,424.71 L440.18,424.10 L441.33,423.47 L442.48,422.82 L443.62,422.13 L444.77,421.42 L445.92,420.67 L447.07,419.90 L448.21,419.09 L449.36,418.25 L450.51,417.37 L451.66,416.45 L452.81,415.50 L453.95,414.50 L455.10,413.46 L456.25,412.38 L457.40,411.25 L458.54,410.08 L459.69,408.85 L460.84,407.57 L461.99,406.24 L463.13,404.85 L464.28,403.40 L465.43,401.89 L466.58,400.32 L467.73,398.68 L468.87,396.96 L470.02,395.18 L471.17,393.32 L472.32,391.38 L473.46,389.36 L474.61,387.25 L475.76,385.05 L476.91,382.76 L478.06,380.37 L479.20,377.88 L480.35,375.29 L481.50,372.58 L482.65,369.76 L483.79,366.82 L484.94,363.75 L486.09,360.55 L487.24,357.22 L488.39,353.75 L489.53,350.12 L490.68,346.35 L491.83,342.41 L492.98,338.30 L494.12,334.02 L495.27,329.56 L496.42,324.91 L497.57,320.06 L498.72,315.00 L499.86,309.73 L501.01,304.23 L502.16,298.50 L503.31,292.53 L504.45,286.30 L505.60,279.81 L506.75,273.04 L507.90,265.99 L509.04,258.63 L510.19,250.96 L511.34,242.96 L512.49,234.63 L513.64,225.93 L514.78,216.87 L515.93,207.43 L517.08,197.58 L518.23,187.31 L519.37,176.61 L520.52,165.45 L521.67,153.81 L522.82,141.68 L523.97,129.04 L525.11,115.85 L526.26,102.11 L527.41,87.78 L528.56,72.84 L529.70,57.27 L530.85,41.03 L532.00,24.10" stroke="#808080" stroke-width="3.125" fill="none" stroke-linejoin="round" stroke-linecap="butt"/>
</g>
<g transform="translate(335.50,228.90) rotate(-60.00)" fill="#00305e" font-size="17.40" font-family="Liberation Serif, serif" text-anchor="middle"><text x="-19.9" y="4.17">D</text><text x="0" y="5.78" transform="scale(1.42,1)">=</text><text x="17.2" y="4.17">0</text></g>
<g transform="translate(337.60,334.00) rotate(-32.00)" fill="#f08c00" font-size="17.40" font-family="Liberation Serif, serif" text-anchor="middle"><text x="-19.9" y="4.17">D</text><text x="0" y="5.78" transform="scale(1.42,1)">=</text><text x="17.2" y="4.17">0</text></g>
<g transform="translate(418.00,314.60) rotate(-44.00)" fill="#00305e" font-size="17.40" font-family="Liberation Serif, serif" text-anchor="middle"><text x="-19.9" y="4.17">D</text><text x="0" y="5.78" transform="scale(1.42,1)">=</text><text x="17.2" y="4.17">1</text></g>
<g transform="translate(387.95,383.97) rotate(-32.40)" fill="#f08c00" font-size="17.40" font-family="Liberation Serif, serif" text-anchor="middle"><text x="-19.9" y="4.17">D</text><text x="0" y="5.78" transform="scale(1.42,1)">=</text><text x="17.2" y="4.17">1</text></g>
<g transform="translate(428.20,390.70) rotate(-41.00)" fill="#808080" font-size="17.40" font-family="Liberation Serif, serif" text-anchor="middle"><text x="-19.9" y="4.17">D</text><text x="0" y="5.78" transform="scale(1.42,1)">=</text><text x="17.2" y="4.17">0</text></g>
<g transform="translate(473.30,414.10) rotate(-44.00)" fill="#808080" font-size="17.40" font-family="Liberation Serif, serif" text-anchor="middle"><text x="-19.9" y="4.17">D</text><text x="0" y="5.78" transform="scale(1.42,1)">=</text><text x="17.2" y="4.17">1</text></g>
<rect x="72.9" y="3.360000000000003" width="459.1" height="456.28" fill="none" stroke="#000" stroke-width="1.667"/>
<path d="M72.90,459.64 L72.90,466.93 M164.72,459.64 L164.72,466.93 M256.54,459.64 L256.54,466.93 M348.36,459.64 L348.36,466.93 M440.18,459.64 L440.18,466.93 M532.00,459.64 L532.00,466.93 M72.90,438.90 L65.61,438.90 M72.90,355.94 L65.61,355.94 M72.90,272.98 L65.61,272.98 M72.90,190.02 L65.61,190.02 M72.90,107.06 L65.61,107.06 M72.90,24.10 L65.61,24.10" stroke="#000" stroke-width="1.667" fill="none"/>
<text x="72.90" y="489.3" text-anchor="middle" font-size="20.83" font-family="Liberation Serif, serif">0</text>
<text x="164.72" y="489.3" text-anchor="middle" font-size="20.83" font-family="Liberation Serif, serif">20</text>
<text x="256.54" y="489.3" text-anchor="middle" font-size="20.83" font-family="Liberation Serif, serif">40</text>
<text x="348.36" y="489.3" text-anchor="middle" font-size="20.83" font-family="Liberation Serif, serif">60</text>
<text x="440.18" y="489.3" text-anchor="middle" font-size="20.83" font-family="Liberation Serif, serif">80</text>
<text x="532.00" y="489.3" text-anchor="middle" font-size="20.83" font-family="Liberation Serif, serif">100</text>
<text x="57.8" y="446.80" text-anchor="end" font-size="20.83" font-family="Liberation Serif, serif">0.0</text>
<text x="57.8" y="363.84" text-anchor="end" font-size="20.83" font-family="Liberation Serif, serif">0.2</text>
<text x="57.8" y="280.88" text-anchor="end" font-size="20.83" font-family="Liberation Serif, serif">0.4</text>
<text x="57.8" y="197.92" text-anchor="end" font-size="20.83" font-family="Liberation Serif, serif">0.6</text>
<text x="57.8" y="114.96" text-anchor="end" font-size="20.83" font-family="Liberation Serif, serif">0.8</text>
<text x="57.8" y="32.00" text-anchor="end" font-size="20.83" font-family="Liberation Serif, serif">1.0</text>
<text x="301.9" y="515.9" text-anchor="middle" font-size="20.83" font-family="Liberation Serif, serif" textLength="274.1" lengthAdjust="spacingAndGlyphs">Geological strength index GSI</text>
<text x="0" y="0" transform="translate(18.4,232.0) rotate(-90)" text-anchor="middle" font-size="20.83" font-family="Liberation Serif, serif" textLength="248.4" lengthAdjust="spacingAndGlyphs">Empirical reduction factors</text>
<rect x="83.6" y="14.6" width="99.30000000000001" height="97.0" rx="4" ry="4" fill="#fff" fill-opacity="0.8" stroke="#cccccc" stroke-width="2.08"/>
<path d="M91.4,30.90 L133.5,30.90" stroke="#00305e" stroke-width="3.125" stroke-linecap="square"/>
<text x="150.35" y="38.40" font-size="20.83" font-family="Liberation Serif, serif" font-style="italic">r</text>
<text x="160.4" y="41.60" font-size="14.58" font-family="Liberation Serif, serif" font-style="italic">s</text>
<path d="M91.4,61.60 L133.5,61.60" stroke="#f08c00" stroke-width="3.125" stroke-linecap="square"/>
<text x="150.35" y="69.10" font-size="20.83" font-family="Liberation Serif, serif" font-style="italic">r</text>
<text x="160.1" y="72.30" font-size="14.58" font-family="Liberation Serif, serif" font-style="italic" textLength="13.6" lengthAdjust="spacingAndGlyphs">m</text>
<path d="M91.4,92.30 L133.5,92.30" stroke="#808080" stroke-width="3.125" stroke-linecap="square"/>
<text x="150.35" y="99.80" font-size="20.83" font-family="Liberation Serif, serif" font-style="italic">r</text>
<text x="159.9" y="103.00" font-size="14.58" font-family="Liberation Serif, serif" font-style="italic">c</text>
</svg></body></html>
